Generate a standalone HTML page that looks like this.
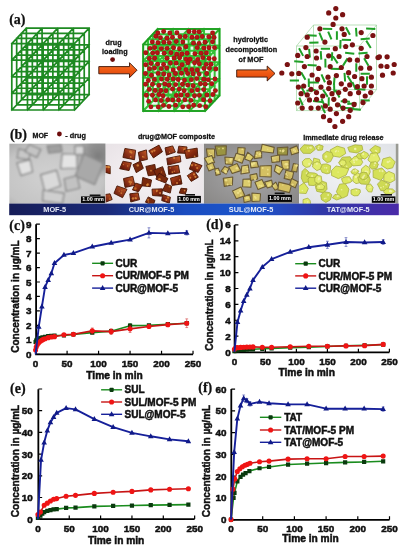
<!DOCTYPE html><html><head><meta charset="utf-8"><title>Drug release from MOF-5</title><style>html,body{margin:0;padding:0;background:#fff;}svg{display:block;filter:blur(0.35px);}</style></head><body><svg width="407" height="550" viewBox="0 0 407 550"><rect width="407" height="550" fill="#fff"/><text x="9.2" y="23.8" font-family="'Liberation Serif', 'Times New Roman', serif" font-weight="bold" font-size="14" stroke="#111" stroke-width="0.25" fill="#111">(a)</text><path d="M11.8 43.6L11.8 110M11.8 43.6L74.5 43.6M27.48 43.6L27.48 110M11.8 60.2L74.5 60.2M43.15 43.6L43.15 110M11.8 76.8L74.5 76.8M58.83 43.6L58.83 110M11.8 93.4L74.5 93.4M74.5 43.6L74.5 110M11.8 110L74.5 110M16.67 38.47L16.67 104.87M16.67 38.47L79.37 38.47M32.34 38.47L32.34 104.87M16.67 55.07L79.37 55.07M48.02 38.47L48.02 104.87M16.67 71.67L79.37 71.67M63.69 38.47L63.69 104.87M16.67 88.27L79.37 88.27M79.37 38.47L79.37 104.87M16.67 104.87L79.37 104.87M21.53 33.33L21.53 99.73M21.53 33.33L84.23 33.33M37.21 33.33L37.21 99.73M21.53 49.93L84.23 49.93M52.88 33.33L52.88 99.73M21.53 66.53L84.23 66.53M68.56 33.33L68.56 99.73M21.53 83.13L84.23 83.13M84.23 33.33L84.23 99.73M21.53 99.73L84.23 99.73M26.4 28.2L26.4 94.6M26.4 28.2L89.1 28.2M42.08 28.2L42.08 94.6M26.4 44.8L89.1 44.8M57.75 28.2L57.75 94.6M26.4 61.4L89.1 61.4M73.42 28.2L73.42 94.6M26.4 78L89.1 78M89.1 28.2L89.1 94.6M26.4 94.6L89.1 94.6M11.8 43.6L26.4 28.2M11.8 60.2L26.4 44.8M11.8 76.8L26.4 61.4M11.8 93.4L26.4 78M11.8 110L26.4 94.6M27.48 43.6L42.08 28.2M27.48 60.2L42.08 44.8M27.48 76.8L42.08 61.4M27.48 93.4L42.08 78M27.48 110L42.08 94.6M43.15 43.6L57.75 28.2M43.15 60.2L57.75 44.8M43.15 76.8L57.75 61.4M43.15 93.4L57.75 78M43.15 110L57.75 94.6M58.83 43.6L73.42 28.2M58.83 60.2L73.42 44.8M58.83 76.8L73.42 61.4M58.83 93.4L73.42 78M58.83 110L73.42 94.6M74.5 43.6L89.1 28.2M74.5 60.2L89.1 44.8M74.5 76.8L89.1 61.4M74.5 93.4L89.1 78M74.5 110L89.1 94.6" stroke="#1e8a22" stroke-width="1.7" fill="none" stroke-linecap="square"/><g font-family="'Liberation Sans', Arial, sans-serif" font-weight="bold" font-size="7.2" fill="#111" stroke="#111" stroke-width="0.28" text-anchor="middle"><text x="113.6" y="44.8">drug</text><text x="114.8" y="54.3">loading</text></g><circle cx="112.6" cy="59.6" r="2.4" fill="#6e0c0c"/><defs><linearGradient id="ag" x1="0" y1="0" x2="0" y2="1"><stop offset="0" stop-color="#f47a30"/><stop offset="0.45" stop-color="#f05a14"/><stop offset="1" stop-color="#d8420a"/></linearGradient><linearGradient id="bar" x1="0" y1="0" x2="1" y2="0"><stop offset="0" stop-color="#161d58"/><stop offset="0.25" stop-color="#1b2a78"/><stop offset="0.45" stop-color="#1a4cc0"/><stop offset="0.62" stop-color="#1c56cc"/><stop offset="0.8" stop-color="#3038a8"/><stop offset="1" stop-color="#4a2aa8"/></linearGradient><radialGradient id="rd" cx="0.45" cy="0.45" r="0.6"><stop offset="0" stop-color="#bc1818"/><stop offset="0.7" stop-color="#a81212"/><stop offset="1" stop-color="#840c0c"/></radialGradient></defs><polygon points="98.8,66.6 129.5,66.6 129.5,62.7 137,70.2 129.5,77.7 129.5,73.8 98.8,73.8" fill="url(#ag)" stroke="#3a1206" stroke-width="0.9"/><polygon points="143.2,44.5 157.7,29 219.5,29 219.5,95.5 205,111 143.2,111" fill="#ecf8ec"/><path d="M143.2 44.5L143.2 111M143.2 44.5L205 44.5M158.65 44.5L158.65 111M143.2 61.12L205 61.12M174.1 44.5L174.1 111M143.2 77.75L205 77.75M189.55 44.5L189.55 111M143.2 94.38L205 94.38M205 44.5L205 111M143.2 111L205 111M148.03 39.33L148.03 105.83M148.03 39.33L209.83 39.33M163.48 39.33L163.48 105.83M148.03 55.96L209.83 55.96M178.93 39.33L178.93 105.83M148.03 72.58L209.83 72.58M194.38 39.33L194.38 105.83M148.03 89.21L209.83 89.21M209.83 39.33L209.83 105.83M148.03 105.83L209.83 105.83M152.87 34.17L152.87 100.67M152.87 34.17L214.67 34.17M168.32 34.17L168.32 100.67M152.87 50.79L214.67 50.79M183.77 34.17L183.77 100.67M152.87 67.42L214.67 67.42M199.22 34.17L199.22 100.67M152.87 84.04L214.67 84.04M214.67 34.17L214.67 100.67M152.87 100.67L214.67 100.67M157.7 29L157.7 95.5M157.7 29L219.5 29M173.15 29L173.15 95.5M157.7 45.62L219.5 45.62M188.6 29L188.6 95.5M157.7 62.25L219.5 62.25M204.05 29L204.05 95.5M157.7 78.88L219.5 78.88M219.5 29L219.5 95.5M157.7 95.5L219.5 95.5M143.2 44.5L157.7 29M143.2 61.12L157.7 45.62M143.2 77.75L157.7 62.25M143.2 94.38L157.7 78.88M143.2 111L157.7 95.5M158.65 44.5L173.15 29M158.65 61.12L173.15 45.62M158.65 77.75L173.15 62.25M158.65 94.38L173.15 78.88M158.65 111L173.15 95.5M174.1 44.5L188.6 29M174.1 61.12L188.6 45.62M174.1 77.75L188.6 62.25M174.1 94.38L188.6 78.88M174.1 111L188.6 95.5M189.55 44.5L204.05 29M189.55 61.12L204.05 45.62M189.55 77.75L204.05 62.25M189.55 94.38L204.05 78.88M189.55 111L204.05 95.5M205 44.5L219.5 29M205 61.12L219.5 45.62M205 77.75L219.5 62.25M205 94.38L219.5 78.88M205 111L219.5 95.5" stroke="#34c236" stroke-width="2.0" fill="none" stroke-linecap="square"/><polygon points="143.2,44.5 157.7,29 219.5,29 219.5,95.5 205,111 143.2,111" fill="none" stroke="#1e9a22" stroke-width="1.6"/><path d="M143.2 44.5L205 44.5L219.5 29M205 44.5L205 111" stroke="#22a022" stroke-width="1" fill="none"/><g fill="url(#rd)"><circle cx="157.77" cy="32.97" r="2.45"/><circle cx="163.64" cy="31.43" r="2.45"/><circle cx="169.86" cy="33.06" r="2.45"/><circle cx="176.91" cy="32.69" r="2.45"/><circle cx="188.96" cy="31.45" r="2.45"/><circle cx="194.29" cy="31.7" r="2.45"/><circle cx="199.05" cy="31.85" r="2.45"/><circle cx="212.61" cy="32.96" r="2.45"/><circle cx="155.85" cy="36.26" r="2.45"/><circle cx="160.48" cy="37.67" r="2.45"/><circle cx="167.09" cy="38.21" r="2.45"/><circle cx="172.45" cy="37.32" r="2.45"/><circle cx="179.99" cy="36.81" r="2.45"/><circle cx="185.32" cy="36.44" r="2.45"/><circle cx="192" cy="37.31" r="2.45"/><circle cx="196.93" cy="37.35" r="2.45"/><circle cx="202.17" cy="36.47" r="2.45"/><circle cx="208.79" cy="36.81" r="2.45"/><circle cx="214.09" cy="37.38" r="2.45"/><circle cx="152.33" cy="41.9" r="2.45"/><circle cx="157.91" cy="42.67" r="2.45"/><circle cx="163.93" cy="42.14" r="2.45"/><circle cx="169.39" cy="42.59" r="2.45"/><circle cx="176.19" cy="41.49" r="2.45"/><circle cx="182.8" cy="41.98" r="2.45"/><circle cx="193.55" cy="43.16" r="2.45"/><circle cx="199.05" cy="43.38" r="2.45"/><circle cx="205.04" cy="42.31" r="2.45"/><circle cx="212.52" cy="41.7" r="2.45"/><circle cx="150.01" cy="48.37" r="2.45"/><circle cx="154.64" cy="47.52" r="2.45"/><circle cx="161.26" cy="48.61" r="2.45"/><circle cx="167.04" cy="48.37" r="2.45"/><circle cx="173.57" cy="47.79" r="2.45"/><circle cx="179.46" cy="48.75" r="2.45"/><circle cx="185.82" cy="46.75" r="2.45"/><circle cx="197.16" cy="47.66" r="2.45"/><circle cx="203.82" cy="48.08" r="2.45"/><circle cx="208.9" cy="47.75" r="2.45"/><circle cx="214.54" cy="47.6" r="2.45"/><circle cx="145.75" cy="52.73" r="2.45"/><circle cx="152.77" cy="53.12" r="2.45"/><circle cx="157.31" cy="52.69" r="2.45"/><circle cx="164.17" cy="53.3" r="2.45"/><circle cx="170.92" cy="52.73" r="2.45"/><circle cx="176.74" cy="54.13" r="2.45"/><circle cx="181.84" cy="54.02" r="2.45"/><circle cx="187" cy="53.26" r="2.45"/><circle cx="194.92" cy="53.72" r="2.45"/><circle cx="201.1" cy="53.16" r="2.45"/><circle cx="206.41" cy="52.88" r="2.45"/><circle cx="149.39" cy="58.46" r="2.45"/><circle cx="154.72" cy="58.18" r="2.45"/><circle cx="166.97" cy="58.27" r="2.45"/><circle cx="174.09" cy="58.06" r="2.45"/><circle cx="179.69" cy="57.68" r="2.45"/><circle cx="186.05" cy="59.12" r="2.45"/><circle cx="190.14" cy="59.27" r="2.45"/><circle cx="197.71" cy="59.48" r="2.45"/><circle cx="202.83" cy="57.64" r="2.45"/><circle cx="209.03" cy="58.41" r="2.45"/><circle cx="214.3" cy="58.69" r="2.45"/><circle cx="145.68" cy="64.77" r="2.45"/><circle cx="150.99" cy="63.49" r="2.45"/><circle cx="157.57" cy="64.1" r="2.45"/><circle cx="163.57" cy="64.43" r="2.45"/><circle cx="170.37" cy="63.01" r="2.45"/><circle cx="176.12" cy="63.17" r="2.45"/><circle cx="182.07" cy="64.77" r="2.45"/><circle cx="187.8" cy="62.85" r="2.45"/><circle cx="194.57" cy="62.81" r="2.45"/><circle cx="199.28" cy="63.73" r="2.45"/><circle cx="206.25" cy="64.35" r="2.45"/><circle cx="210.93" cy="64.28" r="2.45"/><circle cx="149.47" cy="68.64" r="2.45"/><circle cx="154.49" cy="68.08" r="2.45"/><circle cx="161.18" cy="68.63" r="2.45"/><circle cx="166.75" cy="67.98" r="2.45"/><circle cx="173.18" cy="69.97" r="2.45"/><circle cx="179.26" cy="68.41" r="2.45"/><circle cx="185.95" cy="69.74" r="2.45"/><circle cx="191.88" cy="69.65" r="2.45"/><circle cx="197.23" cy="69.97" r="2.45"/><circle cx="203.99" cy="68.39" r="2.45"/><circle cx="209.48" cy="68.35" r="2.45"/><circle cx="215.83" cy="68.93" r="2.45"/><circle cx="145.44" cy="73.52" r="2.45"/><circle cx="151.31" cy="75.28" r="2.45"/><circle cx="158.14" cy="73.39" r="2.45"/><circle cx="163.75" cy="74.03" r="2.45"/><circle cx="169.17" cy="74.96" r="2.45"/><circle cx="175.44" cy="73.56" r="2.45"/><circle cx="181.42" cy="73.22" r="2.45"/><circle cx="187.65" cy="73.48" r="2.45"/><circle cx="193.1" cy="73.73" r="2.45"/><circle cx="199.18" cy="74.12" r="2.45"/><circle cx="206.67" cy="73.49" r="2.45"/><circle cx="148.36" cy="80.51" r="2.45"/><circle cx="154.4" cy="79.42" r="2.45"/><circle cx="161.45" cy="78.99" r="2.45"/><circle cx="167.19" cy="79.23" r="2.45"/><circle cx="173.24" cy="78.89" r="2.45"/><circle cx="178.17" cy="79.55" r="2.45"/><circle cx="184.49" cy="80.12" r="2.45"/><circle cx="191.35" cy="79.67" r="2.45"/><circle cx="196.76" cy="78.61" r="2.45"/><circle cx="203.77" cy="79.13" r="2.45"/><circle cx="208.14" cy="79.66" r="2.45"/><circle cx="215" cy="79.07" r="2.45"/><circle cx="145.58" cy="84.2" r="2.45"/><circle cx="152.48" cy="84.32" r="2.45"/><circle cx="158.9" cy="85.4" r="2.45"/><circle cx="164.79" cy="83.99" r="2.45"/><circle cx="168.97" cy="85.2" r="2.45"/><circle cx="175.67" cy="84.61" r="2.45"/><circle cx="182.44" cy="84.25" r="2.45"/><circle cx="187.67" cy="85.08" r="2.45"/><circle cx="193.15" cy="85.71" r="2.45"/><circle cx="200.47" cy="83.79" r="2.45"/><circle cx="205.26" cy="84.14" r="2.45"/><circle cx="211.74" cy="83.79" r="2.45"/><circle cx="149.3" cy="89.38" r="2.45"/><circle cx="155.15" cy="90.56" r="2.45"/><circle cx="160.86" cy="90.49" r="2.45"/><circle cx="165.9" cy="90.82" r="2.45"/><circle cx="172.53" cy="89.07" r="2.45"/><circle cx="179.24" cy="89.08" r="2.45"/><circle cx="184.14" cy="90.72" r="2.45"/><circle cx="191.91" cy="90.63" r="2.45"/><circle cx="197.43" cy="89.85" r="2.45"/><circle cx="203.72" cy="89.6" r="2.45"/><circle cx="215.42" cy="90.6" r="2.45"/><circle cx="146.28" cy="95.26" r="2.45"/><circle cx="152.44" cy="95.2" r="2.45"/><circle cx="158.94" cy="94.54" r="2.45"/><circle cx="163" cy="95.81" r="2.45"/><circle cx="176.3" cy="95.46" r="2.45"/><circle cx="181.03" cy="95.05" r="2.45"/><circle cx="187.34" cy="94.94" r="2.45"/><circle cx="194.46" cy="95.73" r="2.45"/><circle cx="199.43" cy="95.39" r="2.45"/><circle cx="206.96" cy="95.03" r="2.45"/><circle cx="212.85" cy="94.57" r="2.45"/><circle cx="148.63" cy="101.33" r="2.45"/><circle cx="155.57" cy="99.91" r="2.45"/><circle cx="161.22" cy="100.55" r="2.45"/><circle cx="167.73" cy="99.79" r="2.45"/><circle cx="172.69" cy="99.99" r="2.45"/><circle cx="178.52" cy="99.97" r="2.45"/><circle cx="184.89" cy="99.79" r="2.45"/><circle cx="190.93" cy="100.34" r="2.45"/><circle cx="203.55" cy="99.72" r="2.45"/><circle cx="210.06" cy="100.78" r="2.45"/><circle cx="150.92" cy="106.84" r="2.45"/><circle cx="158.28" cy="106.88" r="2.45"/><circle cx="163.45" cy="105.36" r="2.45"/><circle cx="168.96" cy="106.52" r="2.45"/><circle cx="175.55" cy="105.23" r="2.45"/><circle cx="182.76" cy="106.86" r="2.45"/><circle cx="188.63" cy="106.65" r="2.45"/><circle cx="193.62" cy="105.23" r="2.45"/><circle cx="199.6" cy="105.63" r="2.45"/><circle cx="205.71" cy="106.65" r="2.45"/></g><g font-family="'Liberation Sans', Arial, sans-serif" font-weight="bold" font-size="7.25" fill="#111" stroke="#111" stroke-width="0.28" text-anchor="middle"><text x="250.6" y="42">hydrolytic</text><text x="251.3" y="51.8">decomposition</text><text x="251" y="61.6">of MOF</text></g><polygon points="236.7,69.9 267.2,69.9 267.2,66 275,73.5 267.2,81 267.2,77.1 236.7,77.1" fill="url(#ag)" stroke="#3a1206" stroke-width="0.9"/><path d="M296.5 46L359.5 46M359.5 46L359.5 110.6M359.5 110.6L296.5 110.6M296.5 110.6L296.5 46M313.5 25L376.5 25M376.5 25L376.5 89.6M376.5 89.6L313.5 89.6M313.5 89.6L313.5 25M296.5 46L313.5 25M359.5 46L376.5 25M359.5 110.6L376.5 89.6M296.5 110.6L313.5 89.6" stroke="#8fcf8f" stroke-width="0.6" fill="none"/><path d="M323 28.68L332.2 28.92M366.11 28.49L375.29 29.11M307.5 35.3L316.7 35.7M319.31 32.65L322.69 40.55M328.14 31.53L331.46 39.47M336.89 31.2L336.91 39.8M345.88 27.2L349.92 34.8M355.99 27.91L356.61 36.49M309.3 42.79L318.5 42.41M341.8 39.82L351 39.98M360.62 39.2L369.78 38.4M340.57 40L340.23 48.6M366.22 40.65L370.78 47.95M320.8 48.75L330 48.65M345.12 52.75L354.28 53.65M358.42 53.59L367.58 52.81M309.09 48.92L309.91 57.48M299.03 48.33L303.17 55.87M320.72 51.11L321.28 59.69M332.2 52.2L331.8 60.8M332.9 56.23L337.7 63.37M343.02 65.64L347.58 58.36M294.21 61.26L303.39 61.94M307.51 65.02L316.69 65.58M325.33 58.8L325.47 67.4M364.11 58.3L368.49 65.7M330.7 68.64L339.9 68.96M356.31 63.2L356.29 71.8M289.8 80.58L299 80.42M301.15 72.37L305.45 79.83M308.74 78.4L308.86 87M309.7 82.14L318.9 82.46M321.45 74.37L324.95 82.23M334.56 77.32L333.84 85.88M344.5 72.91L345.1 81.49M347.52 75.69L351.88 83.11M360.6 73.85L369.8 73.75M367.06 76.2L366.94 84.8M301.16 86.67L305.44 94.13M306.41 90.69L315.59 90.11M323.06 89.69L327.74 96.91M334.04 83.9L334.36 92.5M335.45 89.92L339.55 97.48M352.47 82.02L355.73 89.98M356.22 88.91L365.38 89.69M299.38 97.56L302.82 105.44M313.02 101.04L322.18 101.96M321.56 98.63L324.84 106.57M328.81 97.2L328.59 105.8M340.71 101.2L349.89 101.8M347.32 104.12L356.48 103.28M360.6 100.23L369.8 100.57M321.27 105.36L325.13 113.04M338.72 103.29L343.08 110.71M345.1 108.03L354.3 108.17M351.72 108.76L360.88 109.64" stroke="#20a028" stroke-width="2.0" fill="none"/><g fill="#7a1212"><circle cx="333.1" cy="24.4" r="2.6"/><circle cx="319.9" cy="28.8" r="2.6"/><circle cx="342" cy="28.8" r="2.6"/><circle cx="344.2" cy="34.4" r="2.6"/><circle cx="307.2" cy="37.2" r="2.6"/><circle cx="324.9" cy="42.1" r="2.6"/><circle cx="361.2" cy="32.6" r="2.6"/><circle cx="372.9" cy="35.5" r="2.6"/><circle cx="305.9" cy="47.6" r="2.6"/><circle cx="316.1" cy="51" r="2.6"/><circle cx="335.3" cy="48.7" r="2.6"/><circle cx="345.7" cy="46.5" r="2.6"/><circle cx="352.4" cy="44.8" r="2.6"/><circle cx="361.2" cy="48.3" r="2.6"/><circle cx="297.7" cy="55.4" r="2.6"/><circle cx="307.2" cy="56.5" r="2.6"/><circle cx="316.5" cy="58" r="2.6"/><circle cx="328.7" cy="55.8" r="2.6"/><circle cx="339.1" cy="56.5" r="2.6"/><circle cx="349.7" cy="59.8" r="2.6"/><circle cx="357.4" cy="60.2" r="2.6"/><circle cx="367" cy="56.5" r="2.6"/><circle cx="378" cy="57.6" r="2.6"/><circle cx="304.4" cy="66.6" r="2.6"/><circle cx="318.7" cy="68.4" r="2.6"/><circle cx="330.2" cy="66.6" r="2.6"/><circle cx="341.3" cy="67.5" r="2.6"/><circle cx="360.8" cy="68.2" r="2.6"/><circle cx="369.6" cy="68.2" r="2.6"/><circle cx="291.8" cy="73.8" r="2.6"/><circle cx="298.8" cy="73.4" r="2.6"/><circle cx="312.1" cy="75" r="2.6"/><circle cx="317.6" cy="79.4" r="2.6"/><circle cx="328" cy="77.2" r="2.6"/><circle cx="336.4" cy="75.6" r="2.6"/><circle cx="348.6" cy="72.7" r="2.6"/><circle cx="354.6" cy="76.5" r="2.6"/><circle cx="361.9" cy="78.7" r="2.6"/><circle cx="371.4" cy="77.2" r="2.6"/><circle cx="298.4" cy="87.1" r="2.6"/><circle cx="303.7" cy="86" r="2.6"/><circle cx="321" cy="87.1" r="2.6"/><circle cx="329.4" cy="82.7" r="2.6"/><circle cx="328.7" cy="88.6" r="2.6"/><circle cx="341.3" cy="83.8" r="2.6"/><circle cx="349.7" cy="84.9" r="2.6"/><circle cx="357.4" cy="86.7" r="2.6"/><circle cx="364.1" cy="86" r="2.6"/><circle cx="371.4" cy="86" r="2.6"/><circle cx="301.1" cy="93.7" r="2.6"/><circle cx="307.2" cy="94.9" r="2.6"/><circle cx="311" cy="89.3" r="2.6"/><circle cx="316.5" cy="92.6" r="2.6"/><circle cx="322.7" cy="96" r="2.6"/><circle cx="332" cy="93.7" r="2.6"/><circle cx="338.7" cy="92.6" r="2.6"/><circle cx="345.3" cy="89.3" r="2.6"/><circle cx="350.2" cy="93.7" r="2.6"/><circle cx="358.6" cy="92.6" r="2.6"/><circle cx="365.2" cy="96" r="2.6"/><circle cx="370.7" cy="92.6" r="2.6"/><circle cx="297.7" cy="103" r="2.6"/><circle cx="309.5" cy="99.9" r="2.6"/><circle cx="316.5" cy="99.3" r="2.6"/><circle cx="325.4" cy="105.9" r="2.6"/><circle cx="333.8" cy="99.3" r="2.6"/><circle cx="337.5" cy="104.8" r="2.6"/><circle cx="344.8" cy="100.8" r="2.6"/><circle cx="354.1" cy="104.4" r="2.6"/><circle cx="363" cy="102.6" r="2.6"/><circle cx="302.2" cy="108.1" r="2.6"/><circle cx="311" cy="108.1" r="2.6"/><circle cx="318.3" cy="108.1" r="2.6"/><circle cx="330.2" cy="109.2" r="2.6"/><circle cx="343.1" cy="108.1" r="2.6"/><circle cx="350.2" cy="110.3" r="2.6"/><circle cx="336.4" cy="113.6" r="2.6"/><circle cx="335.8" cy="8.6" r="2.6"/><circle cx="328.7" cy="12.9" r="2.6"/><circle cx="342.6" cy="14.7" r="2.6"/><circle cx="335.8" cy="18" r="2.6"/><circle cx="287.3" cy="64.5" r="2.6"/><circle cx="281.8" cy="73" r="2.6"/><circle cx="379.4" cy="56.8" r="2.6"/><circle cx="387.1" cy="56.8" r="2.6"/><circle cx="394.2" cy="64.5" r="2.6"/><circle cx="381" cy="66" r="2.6"/><circle cx="387" cy="66.5" r="2.6"/><circle cx="382.5" cy="75.2" r="2.6"/><circle cx="393.2" cy="73" r="2.6"/><circle cx="323.5" cy="116.7" r="2.6"/><circle cx="329.7" cy="120.4" r="2.6"/><circle cx="342.6" cy="121.3" r="2.6"/><circle cx="348.7" cy="116.7" r="2.6"/><circle cx="334.9" cy="126.5" r="2.6"/></g><text x="9.9" y="139.1" font-family="'Liberation Serif', 'Times New Roman', serif" font-weight="bold" font-size="14" stroke="#111" stroke-width="0.25" fill="#111">(b)</text><g font-family="'Liberation Sans', Arial, sans-serif" font-weight="bold" font-size="7" fill="#111" stroke="#111" stroke-width="0.28"><text x="32.6" y="138.3">MOF</text><text x="65.3" y="138.3" textLength="20.6" lengthAdjust="spacingAndGlyphs">- drug</text><text x="176.4" y="139" text-anchor="middle" font-size="7.4" textLength="77" lengthAdjust="spacingAndGlyphs">drug@MOF composite</text><text x="343.4" y="139.6" text-anchor="middle" font-size="7.5" textLength="80.5" lengthAdjust="spacingAndGlyphs">Immediate drug release</text></g><circle cx="59.4" cy="134" r="2.4" fill="#6e0c0c"/><defs><clipPath id="pc0"><rect x="9.2" y="143.4" width="96.4" height="60.4"/></clipPath><clipPath id="pc1"><rect x="105.6" y="143.4" width="98" height="60.4"/></clipPath><clipPath id="pc2"><rect x="203.6" y="143.4" width="95.6" height="60.4"/></clipPath><clipPath id="pc3"><rect x="299.2" y="143.4" width="99.4" height="60.4"/></clipPath><radialGradient id="p1bg" cx="0.45" cy="0.55" r="0.75"><stop offset="0" stop-color="#d2d2d2"/><stop offset="0.7" stop-color="#c4c4c4"/><stop offset="1" stop-color="#a4a4a4"/></radialGradient><radialGradient id="p2bg" cx="0.5" cy="0.5" r="0.8"><stop offset="0" stop-color="#f8f4f6"/><stop offset="1" stop-color="#e6e0e4"/></radialGradient><radialGradient id="p3bg" cx="0.5" cy="0.5" r="0.8"><stop offset="0" stop-color="#a8a8aa"/><stop offset="1" stop-color="#848280"/></radialGradient><radialGradient id="p4bg" cx="0.5" cy="0.5" r="0.8"><stop offset="0" stop-color="#f2f3f6"/><stop offset="1" stop-color="#dcdfe4"/></radialGradient><filter id="pb" x="-5%" y="-5%" width="110%" height="110%"><feGaussianBlur stdDeviation="0.45"/></filter><radialGradient id="p1dk"><stop offset="0" stop-color="#707070" stop-opacity="0.85"/><stop offset="0.6" stop-color="#808080" stop-opacity="0.6"/><stop offset="1" stop-color="#909090" stop-opacity="0"/></radialGradient><linearGradient id="c2a" x1="0" y1="0" x2="1" y2="1"><stop offset="0" stop-color="#b84c1c"/><stop offset="0.5" stop-color="#8a2c10"/><stop offset="1" stop-color="#561406"/></linearGradient><linearGradient id="c2b" x1="1" y1="0" x2="0" y2="1"><stop offset="0" stop-color="#c45a22"/><stop offset="0.6" stop-color="#7e2410"/><stop offset="1" stop-color="#4a1006"/></linearGradient><linearGradient id="c2c" x1="0" y1="1" x2="1" y2="0"><stop offset="0" stop-color="#5e180a"/><stop offset="0.5" stop-color="#94361a"/><stop offset="1" stop-color="#cc6428"/></linearGradient><linearGradient id="c3a" x1="0" y1="0" x2="1" y2="1"><stop offset="0" stop-color="#ece08a"/><stop offset="1" stop-color="#c0a84c"/></linearGradient><linearGradient id="c3b" x1="1" y1="0" x2="0" y2="1"><stop offset="0" stop-color="#e4d47a"/><stop offset="1" stop-color="#b49c44"/></linearGradient><filter id="pb1" x="-5%" y="-5%" width="110%" height="110%"><feGaussianBlur stdDeviation="0.8"/></filter></defs><g clip-path="url(#pc0)"><rect x="9.2" y="143.4" width="96.4" height="61" fill="url(#p1bg)"/><g filter="url(#pb1)"><ellipse cx="98" cy="156" rx="24" ry="22" fill="url(#p1dk)"/><polygon points="16.98,162.96 30.03,159.71 32.55,171.85 21,175.52" fill="#e2e2e2" stroke="#8a8a8a" stroke-width="1.4" stroke-linejoin="round"/><polygon points="40.69,174.77 56.58,170.24 60.72,185.87 44.89,191.58" fill="#dadada" stroke="#8a8a8a" stroke-width="1.4" stroke-linejoin="round"/><polygon points="62.2,153.88 76.62,154.37 77.13,168.09 60.71,168.59" fill="#e4e4e4" stroke="#8a8a8a" stroke-width="1.4" stroke-linejoin="round"/><polygon points="75.03,145.71 83.95,145.52 83.68,154.18 74.84,154.64" fill="#d6d6d6" stroke="#8a8a8a" stroke-width="1.4" stroke-linejoin="round"/><polygon points="84.09,154 103.22,163.46 94.76,184.56 75.17,176.14" fill="#a9a9a9" stroke="#8a8a8a" stroke-width="1.4" stroke-linejoin="round"/><polygon points="47.16,145.86 61.02,144.71 61.99,151.45 48.85,153.13" fill="#a0a0a0" stroke="#8a8a8a" stroke-width="1.4" stroke-linejoin="round"/><polygon points="18.66,149.05 30.73,151.31 28.56,159.78 17.13,157.9" fill="#c8c8c8" stroke="#8a8a8a" stroke-width="1.4" stroke-linejoin="round"/><polygon points="43.26,190.1 64.29,193.21 62.26,203.61 42.62,201.05" fill="#cfcfcf" stroke="#8a8a8a" stroke-width="1.4" stroke-linejoin="round"/><polygon points="64.15,178.87 77.02,175.62 79.76,188.12 66.17,191.37" fill="#c2c2c2" stroke="#8a8a8a" stroke-width="1.4" stroke-linejoin="round"/><polygon points="29.27,144.71 40.77,149.35 36.86,157.42 24.94,151.54" fill="#c4c4c4" stroke="#8a8a8a" stroke-width="1.4" stroke-linejoin="round"/></g></g><g clip-path="url(#pc1)"><rect x="105.6" y="143.4" width="98" height="61" fill="url(#p2bg)"/><g filter="url(#pb)"><polygon points="124.92,148.45 135.59,150.27 134.49,159.77 122.93,157.46" fill="url(#c2c)" stroke="#4a1606" stroke-width="0.9" stroke-linejoin="round"/><circle cx="130.45" cy="151.74" r="1.28" fill="#d8883a" opacity="0.8"/><circle cx="131.49" cy="152.78" r="1.04" fill="#d8883a" opacity="0.8"/><circle cx="130.72" cy="156.91" r="0.91" fill="#d8883a" opacity="0.8"/><polygon points="138.3,152.37 146.38,149.9 147.38,159.42 139.79,161.08" fill="url(#c2c)" stroke="#4a1606" stroke-width="0.9" stroke-linejoin="round"/><circle cx="142.83" cy="156.65" r="0.85" fill="#e09040" opacity="0.8"/><circle cx="144.03" cy="157.01" r="0.62" fill="#e09040" opacity="0.8"/><polygon points="148.79,150.76 159.02,145.1 162.43,151.73 153.4,157.88" fill="url(#c2a)" stroke="#4a1606" stroke-width="0.9" stroke-linejoin="round"/><circle cx="154.4" cy="150.52" r="1.14" fill="#e09040" opacity="0.8"/><circle cx="152.22" cy="151.58" r="1.11" fill="#e09040" opacity="0.8"/><polygon points="165.07,147.86 172.7,145.91 175.4,152.09 166.44,155.16" fill="url(#c2c)" stroke="#4a1606" stroke-width="0.9" stroke-linejoin="round"/><circle cx="169.63" cy="152.34" r="0.72" fill="#e09040" opacity="0.8"/><polygon points="178.81,146.16 186.96,146.92 186.43,153.38 177.6,153.02" fill="url(#c2c)" stroke="#4a1606" stroke-width="0.9" stroke-linejoin="round"/><circle cx="184.52" cy="149.31" r="1.18" fill="#e09040" opacity="0.8"/><polygon points="184.47,150.24 197.16,148.13 197.83,156.63 186.29,158.51" fill="url(#c2a)" stroke="#4a1606" stroke-width="0.9" stroke-linejoin="round"/><circle cx="188.85" cy="150.83" r="1.26" fill="#e09040" opacity="0.8"/><circle cx="194.64" cy="156.33" r="0.9" fill="#e09040" opacity="0.8"/><polygon points="122.96,161.22 131.4,162.82 129.06,170.58 119.71,168.72" fill="url(#c2b)" stroke="#4a1606" stroke-width="0.9" stroke-linejoin="round"/><circle cx="123.51" cy="164.53" r="0.62" fill="#d8883a" opacity="0.8"/><circle cx="127.71" cy="166.02" r="0.74" fill="#d8883a" opacity="0.8"/><polygon points="132.99,164.75 140.53,161.11 143.35,168.33 136.24,172.63" fill="#7a2a10" stroke="#4a1606" stroke-width="0.9" stroke-linejoin="round"/><circle cx="137.75" cy="165.39" r="1.2" fill="#e09040" opacity="0.8"/><polygon points="145.83,166.44 154.81,164.45 156.37,174.68 148.27,175.79" fill="#7a2a10" stroke="#4a1606" stroke-width="0.9" stroke-linejoin="round"/><circle cx="150.98" cy="170.64" r="0.88" fill="#d8883a" opacity="0.8"/><polygon points="166.78,158.41 180.16,155.68 180.89,161.76 167.78,165.12" fill="url(#c2c)" stroke="#4a1606" stroke-width="0.9" stroke-linejoin="round"/><circle cx="174.14" cy="158.11" r="1.1" fill="#d8883a" opacity="0.8"/><polygon points="153.62,170.18 162.61,166.66 166,176.25 157.2,178.09" fill="#7a2a10" stroke="#4a1606" stroke-width="0.9" stroke-linejoin="round"/><circle cx="161.54" cy="172.01" r="0.66" fill="#c8782a" opacity="0.8"/><polygon points="168.04,166.64 178.37,165.29 179.77,172.85 168.7,174.43" fill="url(#c2b)" stroke="#4a1606" stroke-width="0.9" stroke-linejoin="round"/><circle cx="172.35" cy="172.12" r="0.89" fill="#d8883a" opacity="0.8"/><circle cx="170.18" cy="168.02" r="0.79" fill="#d8883a" opacity="0.8"/><circle cx="174.36" cy="171.3" r="0.76" fill="#d8883a" opacity="0.8"/><polygon points="192.11,161.84 202.1,165.62 198.14,172.47 189.32,169.1" fill="url(#c2b)" stroke="#4a1606" stroke-width="0.9" stroke-linejoin="round"/><circle cx="197.22" cy="168.12" r="1.11" fill="#d8883a" opacity="0.8"/><circle cx="195.68" cy="165.02" r="1.01" fill="#d8883a" opacity="0.8"/><circle cx="191.91" cy="165.24" r="1.14" fill="#d8883a" opacity="0.8"/><polygon points="187.29,175.63 194.29,170.93 198.32,177.21 191.24,181.41" fill="url(#c2a)" stroke="#4a1606" stroke-width="0.9" stroke-linejoin="round"/><circle cx="195.36" cy="176.79" r="1.16" fill="#e09040" opacity="0.8"/><circle cx="190.28" cy="177.71" r="0.96" fill="#e09040" opacity="0.8"/><circle cx="194.04" cy="174.47" r="1.12" fill="#e09040" opacity="0.8"/><polygon points="170.46,178.19 180.35,175.3 181.98,183.96 172.11,185.43" fill="url(#c2a)" stroke="#4a1606" stroke-width="0.9" stroke-linejoin="round"/><circle cx="177.03" cy="183.11" r="0.99" fill="#e09040" opacity="0.8"/><circle cx="179.7" cy="180.01" r="0.76" fill="#e09040" opacity="0.8"/><polygon points="159.07,173.16 167.9,178.5 165.68,183.03 155.87,179.13" fill="#7a2a10" stroke="#4a1606" stroke-width="0.9" stroke-linejoin="round"/><circle cx="159.45" cy="179.3" r="1.24" fill="#e09040" opacity="0.8"/><polygon points="142.77,177.48 151.59,180.06 150.23,186.66 141.65,185.84" fill="#7a2a10" stroke="#4a1606" stroke-width="0.9" stroke-linejoin="round"/><circle cx="147.86" cy="184.31" r="1.02" fill="#e09040" opacity="0.8"/><circle cx="147.32" cy="184.94" r="1.22" fill="#e09040" opacity="0.8"/><polygon points="123.49,178.59 132.81,176.34 134.88,185.3 125.05,187.46" fill="url(#c2c)" stroke="#4a1606" stroke-width="0.9" stroke-linejoin="round"/><circle cx="129.62" cy="181.77" r="1.18" fill="#d8883a" opacity="0.8"/><circle cx="131.12" cy="182.27" r="0.94" fill="#d8883a" opacity="0.8"/><circle cx="130.44" cy="183.93" r="0.88" fill="#d8883a" opacity="0.8"/><polygon points="135.62,183.08 142.48,185.21 138.5,191.75 132.49,189.91" fill="url(#c2a)" stroke="#4a1606" stroke-width="0.9" stroke-linejoin="round"/><circle cx="135.4" cy="188.46" r="1.2" fill="#c8782a" opacity="0.8"/><polygon points="117.01,185.88 127,189.32 122.56,197.65 113.96,193.37" fill="url(#c2c)" stroke="#4a1606" stroke-width="0.9" stroke-linejoin="round"/><circle cx="121.87" cy="190.84" r="0.62" fill="#d8883a" opacity="0.8"/><circle cx="119.17" cy="191.08" r="0.65" fill="#d8883a" opacity="0.8"/><circle cx="121.27" cy="193.1" r="0.94" fill="#d8883a" opacity="0.8"/><polygon points="129.79,193.82 138.1,192.82 139.56,199.6 130.78,202.01" fill="url(#c2b)" stroke="#4a1606" stroke-width="0.9" stroke-linejoin="round"/><circle cx="136.13" cy="198.56" r="0.81" fill="#e09040" opacity="0.8"/><circle cx="135.53" cy="198.05" r="1.16" fill="#e09040" opacity="0.8"/><circle cx="133.01" cy="198.55" r="1.27" fill="#e09040" opacity="0.8"/><polygon points="152.01,189.17 162.49,188.86 161.75,196.22 152.5,195.53" fill="url(#c2a)" stroke="#4a1606" stroke-width="0.9" stroke-linejoin="round"/><circle cx="156.94" cy="190.48" r="0.99" fill="#e09040" opacity="0.8"/><circle cx="160.09" cy="193.11" r="1.05" fill="#e09040" opacity="0.8"/><circle cx="156.71" cy="191.42" r="0.73" fill="#e09040" opacity="0.8"/><polygon points="165.71,183.67 171.68,186.24 170.26,193.09 162.6,190.56" fill="#7a2a10" stroke="#4a1606" stroke-width="0.9" stroke-linejoin="round"/><circle cx="169.49" cy="186.46" r="0.95" fill="#c8782a" opacity="0.8"/><polygon points="162.63,194.6 170.41,197.2 169.3,203.17 161.72,200.58" fill="url(#c2b)" stroke="#4a1606" stroke-width="0.9" stroke-linejoin="round"/><circle cx="166.3" cy="199.88" r="1" fill="#e09040" opacity="0.8"/><circle cx="168.05" cy="197.43" r="1.09" fill="#e09040" opacity="0.8"/><polygon points="181,188.26 187.03,188.83 185.36,194.04 179.27,193.07" fill="#7a2a10" stroke="#4a1606" stroke-width="0.9" stroke-linejoin="round"/><circle cx="184.58" cy="190.67" r="0.81" fill="#e09040" opacity="0.8"/><polygon points="148.23,196.9 154.97,200.47 153.01,205.7 145.41,202.15" fill="#7a2a10" stroke="#4a1606" stroke-width="0.9" stroke-linejoin="round"/><circle cx="148.12" cy="199.85" r="1.04" fill="#c8782a" opacity="0.8"/><circle cx="148.51" cy="201.95" r="0.76" fill="#c8782a" opacity="0.8"/><polygon points="104.9,165.38 110.11,166.12 110.25,173.8 103.9,171.89" fill="url(#c2b)" stroke="#4a1606" stroke-width="0.9" stroke-linejoin="round"/><circle cx="108.94" cy="167.18" r="1.15" fill="#e09040" opacity="0.8"/><circle cx="107.99" cy="166.75" r="0.85" fill="#e09040" opacity="0.8"/><circle cx="106.6" cy="166.89" r="0.98" fill="#e09040" opacity="0.8"/><polygon points="104.31,194.65 110.04,193.84 112.2,199.49 105.28,202.31" fill="url(#c2c)" stroke="#4a1606" stroke-width="0.9" stroke-linejoin="round"/><circle cx="110.01" cy="199.07" r="0.91" fill="#c8782a" opacity="0.8"/></g></g><g clip-path="url(#pc2)"><rect x="203.6" y="143.4" width="95.6" height="61" fill="url(#p3bg)"/><g filter="url(#pb)"><polygon points="206.44,148.81 214.51,148.94 214.78,157.67 207.53,157.85" fill="url(#c3b)" stroke="#6a5a34" stroke-width="1.1" stroke-linejoin="round"/><circle cx="209.6" cy="153.54" r="0.62" fill="#f0e490" opacity="0.8"/><circle cx="210.97" cy="154.67" r="0.91" fill="#f0e490" opacity="0.8"/><polygon points="215.11,145.98 226.37,145.76 226.01,154.72 217.06,155.78" fill="#9a9440" stroke="#6a5a34" stroke-width="1.1" stroke-linejoin="round"/><circle cx="222.96" cy="148.43" r="0.92" fill="#f0e490" opacity="0.8"/><circle cx="218.99" cy="148.83" r="0.72" fill="#f0e490" opacity="0.8"/><polygon points="237.92,147.52 245.1,148.04 244.4,154.94 237.52,154.08" fill="#d4c062" stroke="#6a5a34" stroke-width="1.1" stroke-linejoin="round"/><circle cx="242.3" cy="149.34" r="0.88" fill="#f0e490" opacity="0.8"/><polygon points="255.52,151.32 261.68,150.48 261.64,157.63 254.3,158.61" fill="#d4c062" stroke="#6a5a34" stroke-width="1.1" stroke-linejoin="round"/><circle cx="256.3" cy="155.42" r="0.79" fill="#f0e490" opacity="0.8"/><circle cx="259.91" cy="154.13" r="1.25" fill="#f0e490" opacity="0.8"/><circle cx="257.52" cy="153.07" r="0.79" fill="#f0e490" opacity="0.8"/><polygon points="262.18,144.34 274.23,147.4 273.32,153.01 260.71,151.44" fill="#dccc6c" stroke="#6a5a34" stroke-width="1.1" stroke-linejoin="round"/><circle cx="267.72" cy="149.31" r="0.73" fill="#f0e490" opacity="0.8"/><polygon points="277.23,147.73 287.89,146.94 287.36,155.07 277.68,155.02" fill="#9a9440" stroke="#6a5a34" stroke-width="1.1" stroke-linejoin="round"/><circle cx="283.34" cy="150.62" r="1.26" fill="#f0e490" opacity="0.8"/><circle cx="280.32" cy="150.72" r="0.96" fill="#f0e490" opacity="0.8"/><circle cx="282.77" cy="151.4" r="1.14" fill="#f0e490" opacity="0.8"/><polygon points="289.97,148.62 296.83,145.88 299.28,152.37 291.63,154.85" fill="#d4c062" stroke="#6a5a34" stroke-width="1.1" stroke-linejoin="round"/><circle cx="294.01" cy="149.47" r="0.72" fill="#f0e490" opacity="0.8"/><circle cx="295.18" cy="151.12" r="1.1" fill="#f0e490" opacity="0.8"/><circle cx="293.55" cy="150.54" r="0.71" fill="#f0e490" opacity="0.8"/><polygon points="236.18,153.25 244.89,155.68 242.1,163.34 233.72,160.07" fill="url(#c3a)" stroke="#6a5a34" stroke-width="1.1" stroke-linejoin="round"/><circle cx="239.22" cy="159.98" r="1.11" fill="#f0e490" opacity="0.8"/><polygon points="247.69,152.17 253.72,156.95 250.38,161.32 244.63,158.96" fill="#dccc6c" stroke="#6a5a34" stroke-width="1.1" stroke-linejoin="round"/><circle cx="248.18" cy="155.39" r="0.71" fill="#f0e490" opacity="0.8"/><polygon points="224.87,157.01 233.74,157.79 232.5,164.37 225.47,164.04" fill="url(#c3b)" stroke="#6a5a34" stroke-width="1.1" stroke-linejoin="round"/><circle cx="230.41" cy="160.86" r="1.04" fill="#f0e490" opacity="0.8"/><circle cx="226.71" cy="162.32" r="1.02" fill="#f0e490" opacity="0.8"/><circle cx="230.79" cy="159.29" r="1.26" fill="#f0e490" opacity="0.8"/><polygon points="204.36,158.26 211.72,155.54 214.58,162.45 208.07,164.73" fill="#dccc6c" stroke="#6a5a34" stroke-width="1.1" stroke-linejoin="round"/><circle cx="210.19" cy="161.76" r="0.8" fill="#f0e490" opacity="0.8"/><circle cx="211.58" cy="160.12" r="0.87" fill="#f0e490" opacity="0.8"/><circle cx="207.52" cy="157.99" r="0.81" fill="#f0e490" opacity="0.8"/><polygon points="271.19,156.55 279.46,155.05 279.65,161.62 271.98,162.47" fill="url(#c3a)" stroke="#6a5a34" stroke-width="1.1" stroke-linejoin="round"/><circle cx="274.97" cy="160.73" r="0.83" fill="#f0e490" opacity="0.8"/><polygon points="281.23,160.64 289.3,159.94 289.05,169.23 282.54,168.99" fill="#d4c062" stroke="#6a5a34" stroke-width="1.1" stroke-linejoin="round"/><circle cx="285.73" cy="164.3" r="1.26" fill="#f0e490" opacity="0.8"/><circle cx="287.55" cy="167.25" r="0.94" fill="#f0e490" opacity="0.8"/><circle cx="286.9" cy="164.23" r="1.3" fill="#f0e490" opacity="0.8"/><polygon points="250.12,161.84 256.92,161.21 258.53,167.02 250.98,167.91" fill="url(#c3a)" stroke="#6a5a34" stroke-width="1.1" stroke-linejoin="round"/><circle cx="252.59" cy="164.66" r="0.63" fill="#f0e490" opacity="0.8"/><circle cx="254.03" cy="163.4" r="1.15" fill="#f0e490" opacity="0.8"/><circle cx="252.24" cy="164.46" r="1.24" fill="#f0e490" opacity="0.8"/><polygon points="228.76,167.1 237.03,163.56 240.87,170.63 232.17,173.49" fill="#d4c062" stroke="#6a5a34" stroke-width="1.1" stroke-linejoin="round"/><circle cx="236.92" cy="168.31" r="1.3" fill="#f0e490" opacity="0.8"/><circle cx="232.97" cy="170.98" r="0.8" fill="#f0e490" opacity="0.8"/><polygon points="241.79,166.08 248.19,164.93 249.31,172.79 240.88,173.94" fill="url(#c3a)" stroke="#6a5a34" stroke-width="1.1" stroke-linejoin="round"/><circle cx="242.6" cy="172.12" r="0.6" fill="#f0e490" opacity="0.8"/><circle cx="247.42" cy="171.24" r="0.85" fill="#f0e490" opacity="0.8"/><circle cx="247.33" cy="168.83" r="0.99" fill="#f0e490" opacity="0.8"/><polygon points="206.48,165.36 212.71,162.59 215.1,168.55 208.89,170.93" fill="#d4c062" stroke="#6a5a34" stroke-width="1.1" stroke-linejoin="round"/><circle cx="210.9" cy="166.17" r="0.63" fill="#f0e490" opacity="0.8"/><circle cx="210.95" cy="167.75" r="1.07" fill="#f0e490" opacity="0.8"/><polygon points="224.72,166.43 229.11,168.53 226.11,174.09 220.93,171.27" fill="url(#c3b)" stroke="#6a5a34" stroke-width="1.1" stroke-linejoin="round"/><circle cx="225.87" cy="172.22" r="1.23" fill="#f0e490" opacity="0.8"/><circle cx="225.23" cy="171.07" r="1.25" fill="#f0e490" opacity="0.8"/><polygon points="214.86,168.9 218.4,168.17 220.45,174.24 215.97,175.4" fill="#d4c062" stroke="#6a5a34" stroke-width="1.1" stroke-linejoin="round"/><circle cx="218.27" cy="171.9" r="1.27" fill="#f0e490" opacity="0.8"/><circle cx="216.3" cy="171.3" r="0.97" fill="#f0e490" opacity="0.8"/><polygon points="259.92,165.98 271.41,165.51 271.15,177.03 259.9,176.44" fill="#d4c062" stroke="#6a5a34" stroke-width="1.1" stroke-linejoin="round"/><circle cx="267.78" cy="169.72" r="0.9" fill="#f0e490" opacity="0.8"/><circle cx="262.76" cy="167.98" r="0.94" fill="#f0e490" opacity="0.8"/><circle cx="267.77" cy="173.88" r="0.91" fill="#f0e490" opacity="0.8"/><polygon points="275.9,164.83 283.36,168.23 279.38,174.57 274.31,171.07" fill="#dccc6c" stroke="#6a5a34" stroke-width="1.1" stroke-linejoin="round"/><circle cx="278.42" cy="167.63" r="0.89" fill="#f0e490" opacity="0.8"/><circle cx="277.73" cy="171.39" r="0.95" fill="#f0e490" opacity="0.8"/><polygon points="285.91,170.16 293.67,172.15 291.93,180.34 284.18,178.53" fill="url(#c3b)" stroke="#6a5a34" stroke-width="1.1" stroke-linejoin="round"/><circle cx="286.13" cy="174.02" r="0.94" fill="#f0e490" opacity="0.8"/><circle cx="287.22" cy="175.37" r="0.63" fill="#f0e490" opacity="0.8"/><circle cx="287.05" cy="177.37" r="0.7" fill="#f0e490" opacity="0.8"/><polygon points="293.41,163.55 297.97,164.46 296.73,171.97 291.65,170.99" fill="url(#c3b)" stroke="#6a5a34" stroke-width="1.1" stroke-linejoin="round"/><circle cx="296.72" cy="165.59" r="1.27" fill="#f0e490" opacity="0.8"/><polygon points="223.24,178.29 232.74,176.94 232.36,185.02 224.27,186.36" fill="url(#c3b)" stroke="#6a5a34" stroke-width="1.1" stroke-linejoin="round"/><circle cx="226.1" cy="180.24" r="1.26" fill="#f0e490" opacity="0.8"/><circle cx="231.21" cy="184.61" r="0.77" fill="#f0e490" opacity="0.8"/><circle cx="227.64" cy="184.45" r="0.94" fill="#f0e490" opacity="0.8"/><polygon points="243.02,179.21 251.39,178.83 250.91,187.19 242.55,186.81" fill="#dccc6c" stroke="#6a5a34" stroke-width="1.1" stroke-linejoin="round"/><circle cx="248.7" cy="181.49" r="1.02" fill="#f0e490" opacity="0.8"/><circle cx="249.25" cy="185.08" r="0.73" fill="#f0e490" opacity="0.8"/><polygon points="249.96,175.01 256.66,173.59 257.74,179.06 250.57,180.42" fill="url(#c3b)" stroke="#6a5a34" stroke-width="1.1" stroke-linejoin="round"/><circle cx="255.04" cy="179.44" r="1.08" fill="#f0e490" opacity="0.8"/><polygon points="254.96,182.29 261.95,179.39 265.51,186.53 258,189.61" fill="#dccc6c" stroke="#6a5a34" stroke-width="1.1" stroke-linejoin="round"/><circle cx="261.47" cy="185.89" r="1.11" fill="#f0e490" opacity="0.8"/><circle cx="259.48" cy="185.45" r="0.84" fill="#f0e490" opacity="0.8"/><polygon points="264.57,182.14 271.62,180.14 272.99,186.32 267.39,187.97" fill="#dccc6c" stroke="#6a5a34" stroke-width="1.1" stroke-linejoin="round"/><circle cx="268.29" cy="185.61" r="0.72" fill="#f0e490" opacity="0.8"/><circle cx="269.52" cy="184.44" r="1.3" fill="#f0e490" opacity="0.8"/><polygon points="271.78,185.51 275.85,182.14 278.99,188.33 275.04,190.21" fill="url(#c3a)" stroke="#6a5a34" stroke-width="1.1" stroke-linejoin="round"/><circle cx="273.72" cy="186.82" r="0.68" fill="#f0e490" opacity="0.8"/><polygon points="278.78,182.12 291.42,185.13 289.52,192.61 277.88,189.88" fill="#d4c062" stroke="#6a5a34" stroke-width="1.1" stroke-linejoin="round"/><circle cx="282.82" cy="184.98" r="0.65" fill="#f0e490" opacity="0.8"/><polygon points="232.41,190.88 240.97,186.98 244.87,195.7 236.32,198.78" fill="url(#c3a)" stroke="#6a5a34" stroke-width="1.1" stroke-linejoin="round"/><circle cx="240.93" cy="195.27" r="0.91" fill="#f0e490" opacity="0.8"/><circle cx="239.97" cy="190.91" r="1.22" fill="#f0e490" opacity="0.8"/><circle cx="238.1" cy="192.86" r="1.22" fill="#f0e490" opacity="0.8"/><polygon points="251.93,192.93 260.5,193.82 259.97,200.95 252.06,201.48" fill="#dccc6c" stroke="#6a5a34" stroke-width="1.1" stroke-linejoin="round"/><circle cx="254.87" cy="196.75" r="0.96" fill="#f0e490" opacity="0.8"/><circle cx="255.66" cy="197.93" r="1.06" fill="#f0e490" opacity="0.8"/><polygon points="243.39,196.86 249.64,194.33 251.09,200.72 244.14,202.47" fill="#d4c062" stroke="#6a5a34" stroke-width="1.1" stroke-linejoin="round"/><circle cx="246.66" cy="198.21" r="1.23" fill="#f0e490" opacity="0.8"/><circle cx="248.14" cy="197.88" r="0.89" fill="#f0e490" opacity="0.8"/><polygon points="291.64,178.52 297.98,181.65 295.22,187.88 289.52,184.83" fill="url(#c3b)" stroke="#6a5a34" stroke-width="1.1" stroke-linejoin="round"/><circle cx="292.53" cy="184.58" r="1.18" fill="#f0e490" opacity="0.8"/></g></g><g clip-path="url(#pc3)"><rect x="299.2" y="143.4" width="99.4" height="61" fill="url(#p4bg)"/><g filter="url(#pb)"><polygon points="303.18,153.3 299.97,149.13 303.97,144.8 312.42,145.3 315.44,149.22 310.43,153.41" fill="#ceda52" stroke="#a8b040" stroke-width="0.8" stroke-linejoin="round"/><circle cx="309.78" cy="147.6" r="0.64" fill="#f2f4b0" opacity="0.8"/><circle cx="307.5" cy="148.07" r="0.74" fill="#f2f4b0" opacity="0.8"/><circle cx="310.79" cy="147.65" r="1.18" fill="#f2f4b0" opacity="0.8"/><polygon points="323.14,146.07 322.4,150.01 317.76,150.45 315.34,146.5 319.1,144.59" fill="#ceda52" stroke="#a8b040" stroke-width="0.8" stroke-linejoin="round"/><circle cx="318.83" cy="146.63" r="0.78" fill="#f2f4b0" opacity="0.8"/><circle cx="318.36" cy="148.26" r="0.84" fill="#f2f4b0" opacity="0.8"/><polygon points="339.77,157.26 332.4,155.93 330.04,150.06 337.1,146.12 344.38,148.16 345.69,153.5" fill="#dce860" stroke="#a8b040" stroke-width="0.8" stroke-linejoin="round"/><circle cx="336.61" cy="150.7" r="0.66" fill="#f2f4b0" opacity="0.8"/><circle cx="338.37" cy="151.16" r="0.61" fill="#f2f4b0" opacity="0.8"/><circle cx="335.67" cy="151.51" r="0.89" fill="#f2f4b0" opacity="0.8"/><polygon points="349.48,151.85 347.75,147.44 355.05,144.8 361.98,145.5 362.82,149.78 357.16,152.94" fill="#ceda52" stroke="#a8b040" stroke-width="0.8" stroke-linejoin="round"/><circle cx="355.33" cy="149.07" r="1.2" fill="#f2f4b0" opacity="0.8"/><circle cx="355.1" cy="148.87" r="1.01" fill="#f2f4b0" opacity="0.8"/><polygon points="375.15,145.49 380.31,147.52 379.94,152.43 374.02,155.06 369.83,149.76" fill="#d4e056" stroke="#a8b040" stroke-width="0.8" stroke-linejoin="round"/><circle cx="376.59" cy="151.17" r="0.85" fill="#f2f4b0" opacity="0.8"/><circle cx="375.59" cy="150.44" r="0.77" fill="#f2f4b0" opacity="0.8"/><polygon points="326.57,151.33 331.89,152.49 333.2,156.46 330.6,161.61 327.11,162.58 322.91,158.89 322.75,154.57" fill="#d4e056" stroke="#a8b040" stroke-width="0.8" stroke-linejoin="round"/><circle cx="326" cy="156.61" r="1.25" fill="#f2f4b0" opacity="0.8"/><polygon points="306.01,167.41 302.86,165.17 302.29,161.62 305.18,158.79 309.67,158.54 312.39,161.81 309.71,166.71" fill="#e2ec6c" stroke="#a8b040" stroke-width="0.8" stroke-linejoin="round"/><circle cx="309.23" cy="163.91" r="1.11" fill="#f2f4b0" opacity="0.8"/><polygon points="319.38,159.46 320.83,166.26 317.06,169.04 312.51,164.86 313.84,158.09" fill="#dce860" stroke="#a8b040" stroke-width="0.8" stroke-linejoin="round"/><circle cx="316.16" cy="165.15" r="1.12" fill="#f2f4b0" opacity="0.8"/><polygon points="345.77,170.06 341.36,166.89 338.83,162.39 342.39,157.15 350.13,156.74 353.91,163.08 351.17,166.86" fill="#ceda52" stroke="#a8b040" stroke-width="0.8" stroke-linejoin="round"/><circle cx="346.69" cy="166.23" r="0.85" fill="#f2f4b0" opacity="0.8"/><circle cx="343.63" cy="161.52" r="1.27" fill="#f2f4b0" opacity="0.8"/><circle cx="343.33" cy="162.84" r="0.8" fill="#f2f4b0" opacity="0.8"/><polygon points="354.21,156.66 359.47,155.75 362.74,162.31 360.73,165.3 352.99,165.92 349.35,161.44" fill="#dce860" stroke="#a8b040" stroke-width="0.8" stroke-linejoin="round"/><circle cx="356.54" cy="159.59" r="1.18" fill="#f2f4b0" opacity="0.8"/><circle cx="354.19" cy="162.42" r="0.89" fill="#f2f4b0" opacity="0.8"/><circle cx="353.79" cy="160.48" r="1.11" fill="#f2f4b0" opacity="0.8"/><polygon points="380.03,159.19 374.61,165.74 367.87,160.05 370.59,153.58 376.72,152.67" fill="#e2ec6c" stroke="#a8b040" stroke-width="0.8" stroke-linejoin="round"/><circle cx="373.92" cy="155.75" r="0.82" fill="#f2f4b0" opacity="0.8"/><polygon points="387.27,169.01 381.36,165.31 382.91,158.86 390.23,156.93 395.17,161.87 392.62,167.87" fill="#dce860" stroke="#a8b040" stroke-width="0.8" stroke-linejoin="round"/><circle cx="389.67" cy="161.27" r="0.92" fill="#f2f4b0" opacity="0.8"/><circle cx="387.81" cy="161.94" r="1.26" fill="#f2f4b0" opacity="0.8"/><polygon points="320.32,168.7 322.33,164.25 326.79,163.92 330.58,165.82 330.03,172.93 326.95,173.84 322.16,172.39" fill="#d4e056" stroke="#a8b040" stroke-width="0.8" stroke-linejoin="round"/><circle cx="327.45" cy="171.24" r="0.63" fill="#f2f4b0" opacity="0.8"/><circle cx="326.48" cy="167.85" r="0.93" fill="#f2f4b0" opacity="0.8"/><circle cx="324.6" cy="167.85" r="0.69" fill="#f2f4b0" opacity="0.8"/><polygon points="348.76,169.05 346.19,175.04 338.36,178.64 331.55,175.55 331.56,170.46 335.93,165.93 344,167.54" fill="#dce860" stroke="#a8b040" stroke-width="0.8" stroke-linejoin="round"/><circle cx="338.1" cy="172.05" r="0.66" fill="#f2f4b0" opacity="0.8"/><polygon points="352.76,181.11 353.21,176.26 357.24,172.66 361.49,175 362.85,177.69 361.1,182.48 356.01,183.62" fill="#e2ec6c" stroke="#a8b040" stroke-width="0.8" stroke-linejoin="round"/><circle cx="355.79" cy="177.03" r="1.01" fill="#f2f4b0" opacity="0.8"/><circle cx="358.56" cy="177.04" r="0.73" fill="#f2f4b0" opacity="0.8"/><circle cx="355.99" cy="176.73" r="0.95" fill="#f2f4b0" opacity="0.8"/><polygon points="369.52,167.77 370.22,172.1 367.94,177.18 363.87,177.31 361.21,173.39 361.5,168.82 365.63,165.28" fill="#e2ec6c" stroke="#a8b040" stroke-width="0.8" stroke-linejoin="round"/><circle cx="367.43" cy="171.98" r="0.88" fill="#f2f4b0" opacity="0.8"/><circle cx="365.59" cy="171.42" r="0.99" fill="#f2f4b0" opacity="0.8"/><circle cx="366.26" cy="171.26" r="0.64" fill="#f2f4b0" opacity="0.8"/><polygon points="380.77,180.36 373.19,177.39 373.05,170.25 381.98,167.98 386.85,173.33" fill="#d4e056" stroke="#a8b040" stroke-width="0.8" stroke-linejoin="round"/><circle cx="379.76" cy="170.96" r="0.9" fill="#f2f4b0" opacity="0.8"/><circle cx="382.52" cy="171.14" r="1.08" fill="#f2f4b0" opacity="0.8"/><polygon points="303.27,182.67 301.27,177.86 302.12,171.28 305,168.42 308.72,171.7 310.07,177.94 308.84,181.94" fill="#ceda52" stroke="#a8b040" stroke-width="0.8" stroke-linejoin="round"/><circle cx="306.7" cy="173.3" r="0.99" fill="#f2f4b0" opacity="0.8"/><polygon points="308.03,179.1 311.69,175.19 317.97,178.19 317.02,183.13 314.19,185.55 308.91,185.22" fill="#d4e056" stroke="#a8b040" stroke-width="0.8" stroke-linejoin="round"/><circle cx="315.07" cy="181.14" r="0.68" fill="#f2f4b0" opacity="0.8"/><polygon points="327.06,189.21 323.65,192.91 316.73,191.31 315.14,184.77 319.35,180.21 326.4,182.64" fill="#ceda52" stroke="#a8b040" stroke-width="0.8" stroke-linejoin="round"/><circle cx="323.49" cy="184.97" r="1.12" fill="#f2f4b0" opacity="0.8"/><circle cx="322.42" cy="184.32" r="0.72" fill="#f2f4b0" opacity="0.8"/><circle cx="320.63" cy="187.02" r="0.76" fill="#f2f4b0" opacity="0.8"/><polygon points="304.04,182.75 308.33,188.57 306.11,193.51 298.31,193.02 298.79,186.37" fill="#dce860" stroke="#a8b040" stroke-width="0.8" stroke-linejoin="round"/><circle cx="302.35" cy="190.56" r="0.79" fill="#f2f4b0" opacity="0.8"/><polygon points="338.86,196.55 336.43,191.62 339.55,184.27 345.15,183.48 348.94,189.17 347.35,195.75 342.84,198.04" fill="#d4e056" stroke="#a8b040" stroke-width="0.8" stroke-linejoin="round"/><circle cx="341.93" cy="189.87" r="0.6" fill="#f2f4b0" opacity="0.8"/><circle cx="341.34" cy="189.65" r="0.61" fill="#f2f4b0" opacity="0.8"/><polygon points="358.07,195.65 354.09,195.89 351.09,194.07 350.96,189.96 355.73,188.65 360.08,189.66 360.35,192.2" fill="#dce860" stroke="#a8b040" stroke-width="0.8" stroke-linejoin="round"/><circle cx="356.47" cy="190.38" r="0.75" fill="#f2f4b0" opacity="0.8"/><polygon points="387.38,190.4 380.81,190.68 377.42,184.15 381.47,180.03 389.81,184.03" fill="#ceda52" stroke="#a8b040" stroke-width="0.8" stroke-linejoin="round"/><circle cx="386.19" cy="184.42" r="1.01" fill="#f2f4b0" opacity="0.8"/><circle cx="380.93" cy="187.6" r="0.91" fill="#f2f4b0" opacity="0.8"/><circle cx="383.39" cy="186.71" r="0.7" fill="#f2f4b0" opacity="0.8"/><polygon points="394.94,180.08 390.18,182.79 383.69,180.7 384.05,174.64 388.76,171.39 394.31,173.78" fill="#e2ec6c" stroke="#a8b040" stroke-width="0.8" stroke-linejoin="round"/><circle cx="392.13" cy="178.21" r="1.02" fill="#f2f4b0" opacity="0.8"/><polygon points="329.75,192.68 331.89,194.77 330.3,199.93 325.87,202.49 321.52,199.69 320.69,195.14 324.02,191.77" fill="#ceda52" stroke="#a8b040" stroke-width="0.8" stroke-linejoin="round"/><circle cx="324.47" cy="198.59" r="0.81" fill="#f2f4b0" opacity="0.8"/><circle cx="328.15" cy="194.99" r="0.94" fill="#f2f4b0" opacity="0.8"/><circle cx="325.88" cy="198.22" r="0.74" fill="#f2f4b0" opacity="0.8"/><polygon points="373.11,187.4 371.85,192.07 368.3,191.76 366,188.48 366.79,184.95 370.4,183.86" fill="#e2ec6c" stroke="#a8b040" stroke-width="0.8" stroke-linejoin="round"/><circle cx="369.22" cy="187.7" r="0.63" fill="#f2f4b0" opacity="0.8"/><circle cx="370.54" cy="186.96" r="0.81" fill="#f2f4b0" opacity="0.8"/><polygon points="360.86,183.95 358.92,181.47 357.78,177.27 362.71,174.04 368.63,175.6 370.37,180 368.34,184.42" fill="#ceda52" stroke="#a8b040" stroke-width="0.8" stroke-linejoin="round"/><circle cx="365.77" cy="180.27" r="0.64" fill="#f2f4b0" opacity="0.8"/><circle cx="366.02" cy="178.24" r="1.3" fill="#f2f4b0" opacity="0.8"/><polygon points="320,169.35 316.8,170.61 312.49,166.98 313.41,163.18 317.23,161.52 319.45,162.46 321.85,165.2" fill="#e2ec6c" stroke="#a8b040" stroke-width="0.8" stroke-linejoin="round"/><circle cx="316.79" cy="163.73" r="1.08" fill="#f2f4b0" opacity="0.8"/><polygon points="343.54,166.15 340.76,165.4 338.65,162.88 341.85,159.68 345.37,160.53 346.21,163.49" fill="#e2ec6c" stroke="#a8b040" stroke-width="0.8" stroke-linejoin="round"/><circle cx="341.63" cy="164.16" r="0.6" fill="#f2f4b0" opacity="0.8"/><polygon points="366.62,172.67 368.22,177.18 365.24,179.28 362.51,179.71 359.53,177.47 360.02,173.35 363.2,172.28" fill="#ceda52" stroke="#a8b040" stroke-width="0.8" stroke-linejoin="round"/><circle cx="364.32" cy="175.42" r="0.99" fill="#f2f4b0" opacity="0.8"/><circle cx="363.41" cy="176.38" r="0.96" fill="#f2f4b0" opacity="0.8"/><circle cx="362.81" cy="177.61" r="1.22" fill="#f2f4b0" opacity="0.8"/><polygon points="371.19,162.14 375.94,161.75 378.36,164.06 376.93,168.16 371.79,169.25 369.35,166.33" fill="#ceda52" stroke="#a8b040" stroke-width="0.8" stroke-linejoin="round"/><circle cx="375.19" cy="163.13" r="1.15" fill="#f2f4b0" opacity="0.8"/><circle cx="374.27" cy="165.32" r="0.82" fill="#f2f4b0" opacity="0.8"/><polygon points="362.68,152.89 365.97,153.74 366.85,157.06 363.31,158.51 358.98,158.94 356.2,155.9 358.39,153.52" fill="#d4e056" stroke="#a8b040" stroke-width="0.8" stroke-linejoin="round"/><circle cx="362.38" cy="155.23" r="1.17" fill="#f2f4b0" opacity="0.8"/><polygon points="334.98,194.43 339.96,195.27 341.6,198.2 336.68,199.98 332.35,197.74" fill="#d4e056" stroke="#a8b040" stroke-width="0.8" stroke-linejoin="round"/><circle cx="338.84" cy="195.9" r="0.65" fill="#f2f4b0" opacity="0.8"/><circle cx="337.53" cy="196.16" r="1.04" fill="#f2f4b0" opacity="0.8"/><polygon points="361.43,157.28 360.31,154.53 363.62,151.2 368.08,153.58 368.52,156 364.79,159.23" fill="#dce860" stroke="#a8b040" stroke-width="0.8" stroke-linejoin="round"/><circle cx="363.19" cy="154.17" r="1.08" fill="#f2f4b0" opacity="0.8"/><polygon points="310.25,177.44 306.55,176.05 307.35,173.61 309.66,172.65 314.74,173.06 317.52,174.36 315,177.75" fill="#d4e056" stroke="#a8b040" stroke-width="0.8" stroke-linejoin="round"/><circle cx="312.1" cy="176.08" r="1.09" fill="#f2f4b0" opacity="0.8"/><polygon points="355.36,174.74 351.91,173.55 350.93,171.68 353.46,169.03 355.56,168.93 358.95,171.18 357.12,173.39" fill="#d4e056" stroke="#a8b040" stroke-width="0.8" stroke-linejoin="round"/><circle cx="353.47" cy="170.96" r="0.89" fill="#f2f4b0" opacity="0.8"/><circle cx="355.71" cy="170.56" r="1.25" fill="#f2f4b0" opacity="0.8"/><polygon points="310.05,200.49 310.86,204.89 308.42,206.63 305.29,206.36 303.09,203.6 303.06,199.6 307.79,198.11" fill="#e2ec6c" stroke="#a8b040" stroke-width="0.8" stroke-linejoin="round"/><circle cx="307.37" cy="203.96" r="1.18" fill="#f2f4b0" opacity="0.8"/><circle cx="307.71" cy="202.02" r="0.78" fill="#f2f4b0" opacity="0.8"/><polygon points="314.79,178.24 316.91,175.36 321.2,176.15 321.97,181.41 318.53,183.83 314.79,181.79" fill="#e2ec6c" stroke="#a8b040" stroke-width="0.8" stroke-linejoin="round"/><circle cx="319.1" cy="178.3" r="0.96" fill="#f2f4b0" opacity="0.8"/><circle cx="318.69" cy="179.37" r="1.06" fill="#f2f4b0" opacity="0.8"/><polygon points="390.76,194.42 385.58,194.11 383.46,191.73 386.22,188.73 392.58,189.05 395.32,191.57" fill="#dce860" stroke="#a8b040" stroke-width="0.8" stroke-linejoin="round"/><circle cx="389.81" cy="191.2" r="0.67" fill="#f2f4b0" opacity="0.8"/><circle cx="391.47" cy="191.39" r="0.9" fill="#f2f4b0" opacity="0.8"/><circle cx="390.32" cy="191.15" r="1.3" fill="#f2f4b0" opacity="0.8"/><polygon points="345.08,176.86 349.5,176.66 352.22,181.04 350.03,182.62 344.63,183.81 342.64,182.34 341.53,178.66" fill="#dce860" stroke="#a8b040" stroke-width="0.8" stroke-linejoin="round"/><circle cx="348.22" cy="179.04" r="0.6" fill="#f2f4b0" opacity="0.8"/><circle cx="349.11" cy="179.93" r="0.67" fill="#f2f4b0" opacity="0.8"/><polygon points="317.03,184.75 321.66,183.75 324.58,186.11 323.74,189.29 318.68,189.7 315.88,188.43" fill="#e2ec6c" stroke="#a8b040" stroke-width="0.8" stroke-linejoin="round"/><circle cx="319.3" cy="186.48" r="0.93" fill="#f2f4b0" opacity="0.8"/><rect x="395.8" y="143.6" width="2.8" height="61" fill="#6a6a5a" opacity="0.6"/></g></g><rect x="81" y="196.4" width="23.9" height="6.5" fill="#050505"/><rect x="89.7" y="194.5" width="10.8" height="1.6" fill="#111"/><text x="92.95" y="201.3" font-family="'Liberation Sans', Arial, sans-serif" font-weight="bold" font-size="5.4" fill="#fff" text-anchor="middle">1.00 mm</text><rect x="177.3" y="195.9" width="23.6" height="6.9" fill="#050505"/><rect x="185.2" y="194" width="9.8" height="1.6" fill="#111"/><text x="189.1" y="201.2" font-family="'Liberation Sans', Arial, sans-serif" font-weight="bold" font-size="5.4" fill="#fff" text-anchor="middle">1.00 mm</text><rect x="267.9" y="194.9" width="24" height="7" fill="#050505"/><rect x="274.7" y="192.5" width="9.9" height="1.6" fill="#111"/><text x="279.9" y="200.3" font-family="'Liberation Sans', Arial, sans-serif" font-weight="bold" font-size="5.4" fill="#fff" text-anchor="middle">1.00 mm</text><rect x="371.8" y="196.4" width="23.6" height="6.4" fill="#050505"/><rect x="380.7" y="194" width="11.3" height="1.6" fill="#111"/><text x="383.6" y="201.2" font-family="'Liberation Sans', Arial, sans-serif" font-weight="bold" font-size="5.4" fill="#fff" text-anchor="middle">1.00 mm</text><rect x="9.2" y="203.6" width="389.6" height="11.6" fill="url(#bar)"/><g font-family="'Liberation Sans', Arial, sans-serif" font-weight="bold" font-size="7.3" fill="#e8ecf8" text-anchor="middle"><text x="54.7" y="211.8">MOF-5</text><text x="151.5" y="211.8">CUR@MOF-5</text><text x="251" y="211.8">SUL@MOF-5</text><text x="348.2" y="211.8">TAT@MOF-5</text></g><path d="M36.1 224.2L36.1 354.3L193.03 354.3" stroke="#000" stroke-width="1.8" fill="none"/><path d="M36.1 354.3L39.9 354.3M36.1 339.84L39.9 339.84M36.1 325.38L39.9 325.38M36.1 310.92L39.9 310.92M36.1 296.46L39.9 296.46M36.1 282L39.9 282M36.1 267.54L39.9 267.54M36.1 253.08L39.9 253.08M36.1 238.62L39.9 238.62M36.1 224.16L39.9 224.16M35.6 354.3L35.6 350.8M67.09 354.3L67.09 350.8M98.57 354.3L98.57 350.8M130.06 354.3L130.06 350.8M161.54 354.3L161.54 350.8M193.03 354.3L193.03 350.8" stroke="#000" stroke-width="1.2" fill="none"/><g font-family="'Liberation Sans', Arial, sans-serif" font-weight="bold" font-size="9.9" fill="#111" stroke="#111" stroke-width="0.5"><text x="31.5" y="357.8" text-anchor="end">0</text><text x="31.5" y="343.34" text-anchor="end">1</text><text x="31.5" y="328.88" text-anchor="end">2</text><text x="31.5" y="314.42" text-anchor="end">3</text><text x="31.5" y="299.96" text-anchor="end">4</text><text x="31.5" y="285.5" text-anchor="end">5</text><text x="31.5" y="271.04" text-anchor="end">6</text><text x="31.5" y="256.58" text-anchor="end">7</text><text x="31.5" y="242.12" text-anchor="end">8</text><text x="31.5" y="227.66" text-anchor="end">9</text><text x="35.6" y="366.7" text-anchor="middle">0</text><text x="67.09" y="366.7" text-anchor="middle">50</text><text x="98.57" y="366.7" text-anchor="middle">100</text><text x="130.06" y="366.7" text-anchor="middle">150</text><text x="161.54" y="366.7" text-anchor="middle">200</text><text x="193.03" y="366.7" text-anchor="middle">250</text></g><text x="114.5" y="378.9" font-family="'Liberation Sans', Arial, sans-serif" font-weight="bold" font-size="10.2" fill="#111" stroke="#111" stroke-width="0.5" text-anchor="middle">Time in min</text><text transform="translate(19,296.6) rotate(-90)" font-family="'Liberation Sans', Arial, sans-serif" font-weight="bold" font-size="10.6" fill="#111" stroke="#111" stroke-width="0.45" text-anchor="middle" textLength="112.5" lengthAdjust="spacingAndGlyphs">Concentration in µg/mL</text><text x="9.3" y="229.6" font-family="'Liberation Serif', 'Times New Roman', serif" font-weight="bold" font-size="14" fill="#111" stroke="#111" stroke-width="0.25">(c)</text><polyline points="35.6,342.01 36.23,340.56 36.86,339.84 37.49,339.55 38.12,339.12 38.75,338.83 39.38,338.39 40.64,338.1 41.9,337.67 43.16,337.38 45.05,336.95 48.19,336.23 51.34,335.79 54.49,335.5 63.94,335.5 73.38,334.35 92.27,332.61 111.16,331.16 130.06,325.67 148.95,325.38 167.84,324.22 186.73,323.21" fill="none" stroke="#1a8c1e" stroke-width="1.6" stroke-linejoin="round"/><path d="M130.06 323.5L130.06 327.84M128.66 323.5L131.46 323.5M128.66 327.84L131.46 327.84" stroke="#1a8c1e" stroke-width="0.7" fill="none" opacity="0.7"/><path d="M33.5 339.91h4.2v4.2h-4.2ZM34.13 338.46h4.2v4.2h-4.2ZM34.76 337.74h4.2v4.2h-4.2ZM35.39 337.45h4.2v4.2h-4.2ZM36.02 337.02h4.2v4.2h-4.2ZM36.65 336.73h4.2v4.2h-4.2ZM37.28 336.29h4.2v4.2h-4.2ZM38.54 336h4.2v4.2h-4.2ZM39.8 335.57h4.2v4.2h-4.2ZM41.06 335.28h4.2v4.2h-4.2ZM42.95 334.85h4.2v4.2h-4.2ZM46.09 334.12h4.2v4.2h-4.2ZM49.24 333.69h4.2v4.2h-4.2ZM52.39 333.4h4.2v4.2h-4.2ZM61.84 333.4h4.2v4.2h-4.2ZM71.28 332.25h4.2v4.2h-4.2ZM90.17 330.51h4.2v4.2h-4.2ZM109.06 329.06h4.2v4.2h-4.2ZM127.96 323.57h4.2v4.2h-4.2ZM146.85 323.28h4.2v4.2h-4.2ZM165.74 322.12h4.2v4.2h-4.2ZM184.63 321.11h4.2v4.2h-4.2Z" fill="#0a3a0e"/><polyline points="35.6,349.96 36.23,347.07 36.86,345.62 37.49,344.47 38.12,343.6 38.75,342.73 39.38,342.01 40.64,341 41.9,340.13 43.16,339.41 45.05,338.68 48.19,337.67 51.34,336.95 54.49,336.66 63.94,334.78 73.38,334.35 92.27,330.87 111.16,331.6 130.06,328.85 148.95,326.54 167.84,324.66 186.73,323.21" fill="none" stroke="#c81414" stroke-width="1.6" stroke-linejoin="round"/><path d="M92.27 327.98L92.27 333.77M90.87 327.98L93.67 327.98M90.87 333.77L93.67 333.77M111.16 328.71L111.16 334.49M109.76 328.71L112.56 328.71M109.76 334.49L112.56 334.49M130.06 325.24L130.06 332.47M128.66 325.24L131.46 325.24M128.66 332.47L131.46 332.47M186.73 318.87L186.73 327.55M185.33 318.87L188.13 318.87M185.33 327.55L188.13 327.55" stroke="#c81414" stroke-width="0.7" fill="none" opacity="0.7"/><path d="M33.05 349.96a2.55 2.55 0 1 0 5.1 0a2.55 2.55 0 1 0 -5.1 0ZM33.68 347.07a2.55 2.55 0 1 0 5.1 0a2.55 2.55 0 1 0 -5.1 0ZM34.31 345.62a2.55 2.55 0 1 0 5.1 0a2.55 2.55 0 1 0 -5.1 0ZM34.94 344.47a2.55 2.55 0 1 0 5.1 0a2.55 2.55 0 1 0 -5.1 0ZM35.57 343.6a2.55 2.55 0 1 0 5.1 0a2.55 2.55 0 1 0 -5.1 0ZM36.2 342.73a2.55 2.55 0 1 0 5.1 0a2.55 2.55 0 1 0 -5.1 0ZM36.83 342.01a2.55 2.55 0 1 0 5.1 0a2.55 2.55 0 1 0 -5.1 0ZM38.09 341a2.55 2.55 0 1 0 5.1 0a2.55 2.55 0 1 0 -5.1 0ZM39.35 340.13a2.55 2.55 0 1 0 5.1 0a2.55 2.55 0 1 0 -5.1 0ZM40.61 339.41a2.55 2.55 0 1 0 5.1 0a2.55 2.55 0 1 0 -5.1 0ZM42.5 338.68a2.55 2.55 0 1 0 5.1 0a2.55 2.55 0 1 0 -5.1 0ZM45.64 337.67a2.55 2.55 0 1 0 5.1 0a2.55 2.55 0 1 0 -5.1 0ZM48.79 336.95a2.55 2.55 0 1 0 5.1 0a2.55 2.55 0 1 0 -5.1 0ZM51.94 336.66a2.55 2.55 0 1 0 5.1 0a2.55 2.55 0 1 0 -5.1 0ZM61.39 334.78a2.55 2.55 0 1 0 5.1 0a2.55 2.55 0 1 0 -5.1 0ZM70.83 334.35a2.55 2.55 0 1 0 5.1 0a2.55 2.55 0 1 0 -5.1 0ZM89.72 330.87a2.55 2.55 0 1 0 5.1 0a2.55 2.55 0 1 0 -5.1 0ZM108.61 331.6a2.55 2.55 0 1 0 5.1 0a2.55 2.55 0 1 0 -5.1 0ZM127.51 328.85a2.55 2.55 0 1 0 5.1 0a2.55 2.55 0 1 0 -5.1 0ZM146.4 326.54a2.55 2.55 0 1 0 5.1 0a2.55 2.55 0 1 0 -5.1 0ZM165.29 324.66a2.55 2.55 0 1 0 5.1 0a2.55 2.55 0 1 0 -5.1 0ZM184.18 323.21a2.55 2.55 0 1 0 5.1 0a2.55 2.55 0 1 0 -5.1 0Z" fill="#f01414"/><polyline points="35.6,354.3 38.75,326.83 41.9,306.58 45.05,287.06 48.19,279.98 51.34,273.32 54.49,263.2 63.94,254.96 73.38,253.08 92.27,246.72 111.16,242.96 130.06,239.63 148.95,232.84 167.84,233.41 186.73,232.84" fill="none" stroke="#16209a" stroke-width="1.9" stroke-linejoin="round"/><path d="M148.95 227.78L148.95 237.9M147.55 227.78L150.35 227.78M147.55 237.9L150.35 237.9M186.73 230.67L186.73 235M185.33 230.67L188.13 230.67M185.33 235L188.13 235" stroke="#16209a" stroke-width="0.7" fill="none" opacity="0.7"/><path d="M38.75 323.73L41.55 328.73L35.95 328.73ZM41.9 303.48L44.7 308.48L39.1 308.48ZM45.05 283.96L47.85 288.96L42.25 288.96ZM48.19 276.88L50.99 281.88L45.39 281.88ZM51.34 270.22L54.14 275.22L48.54 275.22ZM54.49 260.1L57.29 265.1L51.69 265.1ZM63.94 251.86L66.74 256.86L61.14 256.86ZM73.38 249.98L76.18 254.98L70.58 254.98ZM92.27 243.62L95.07 248.62L89.47 248.62ZM111.16 239.86L113.96 244.86L108.36 244.86ZM130.06 236.53L132.86 241.53L127.26 241.53ZM148.95 229.74L151.75 234.74L146.15 234.74ZM167.84 230.31L170.64 235.31L165.04 235.31ZM186.73 229.74L189.53 234.74L183.93 234.74Z" fill="#101a88"/><line x1="92.1" y1="263.3" x2="113.1" y2="263.3" stroke="#1a8c1e" stroke-width="1.4"/><rect x="100.5" y="261.2" width="4.2" height="4.2" rx="0.8" fill="#0a3a0e"/><text transform="translate(115.4,266.9) scale(0.975,1)" font-family="'Liberation Sans', Arial, sans-serif" font-weight="bold" font-size="10.3" fill="#111" stroke="#111" stroke-width="0.5">CUR</text><line x1="92.1" y1="275.7" x2="113.1" y2="275.7" stroke="#c81414" stroke-width="1.4"/><circle cx="102.6" cy="275.7" r="2.55" fill="#f01414"/><text transform="translate(115.4,279.3) scale(0.975,1)" font-family="'Liberation Sans', Arial, sans-serif" font-weight="bold" font-size="10.3" fill="#111" stroke="#111" stroke-width="0.5">CUR/MOF-5 PM</text><line x1="92.1" y1="288.1" x2="113.1" y2="288.1" stroke="#16209a" stroke-width="1.4"/><path d="M102.6 285L105.4 290L99.8 290Z" fill="#101a88"/><text transform="translate(115.4,291.7) scale(0.975,1)" font-family="'Liberation Sans', Arial, sans-serif" font-weight="bold" font-size="10.3" fill="#111" stroke="#111" stroke-width="0.5">CUR@MOF-5</text><path d="M234.6 224.9L234.6 352.3L389.4 352.3" stroke="#000" stroke-width="1.8" fill="none"/><path d="M234.6 352L238.4 352M234.6 336.12L238.4 336.12M234.6 320.24L238.4 320.24M234.6 304.36L238.4 304.36M234.6 288.48L238.4 288.48M234.6 272.6L238.4 272.6M234.6 256.72L238.4 256.72M234.6 240.84L238.4 240.84M234.6 224.96L238.4 224.96M234.4 352.3L234.4 348.8M265.4 352.3L265.4 348.8M296.4 352.3L296.4 348.8M327.4 352.3L327.4 348.8M358.4 352.3L358.4 348.8M389.4 352.3L389.4 348.8" stroke="#000" stroke-width="1.2" fill="none"/><g font-family="'Liberation Sans', Arial, sans-serif" font-weight="bold" font-size="9.9" fill="#111" stroke="#111" stroke-width="0.5"><text x="230.8" y="355.5" text-anchor="end">0</text><text x="230.8" y="339.62" text-anchor="end">2</text><text x="230.8" y="323.74" text-anchor="end">4</text><text x="230.8" y="307.86" text-anchor="end">6</text><text x="230.8" y="291.98" text-anchor="end">8</text><text x="230.8" y="276.1" text-anchor="end">10</text><text x="230.8" y="260.22" text-anchor="end">12</text><text x="230.8" y="244.34" text-anchor="end">14</text><text x="230.8" y="228.46" text-anchor="end">6</text><text x="234.4" y="364.7" text-anchor="middle">0</text><text x="265.4" y="364.7" text-anchor="middle">50</text><text x="296.4" y="364.7" text-anchor="middle">100</text><text x="327.4" y="364.7" text-anchor="middle">150</text><text x="358.4" y="364.7" text-anchor="middle">200</text><text x="389.4" y="364.7" text-anchor="middle">250</text></g><text x="306.7" y="376.1" font-family="'Liberation Sans', Arial, sans-serif" font-weight="bold" font-size="10.2" fill="#111" stroke="#111" stroke-width="0.5" text-anchor="middle">Time in min</text><text transform="translate(212.6,295.1) rotate(-90)" font-family="'Liberation Sans', Arial, sans-serif" font-weight="bold" font-size="10.6" fill="#111" stroke="#111" stroke-width="0.45" text-anchor="middle" textLength="111.5" lengthAdjust="spacingAndGlyphs">Concentration in µg/mL</text><text x="206.2" y="228.6" font-family="'Liberation Serif', 'Times New Roman', serif" font-weight="bold" font-size="14" fill="#111" stroke="#111" stroke-width="0.25">(d)</text><polyline points="234.4,351.21 237.5,350.41 240.6,350.01 243.7,349.78 246.8,349.62 249.9,349.46 253,349.3 262.3,348.82 271.6,348.43 290.2,347.63 308.8,347.08 327.4,346.44 346,345.81 364.6,345.25 383.2,344.7" fill="none" stroke="#1a8c1e" stroke-width="1.6" stroke-linejoin="round"/><path d="M232.3 349.11h4.2v4.2h-4.2ZM235.4 348.31h4.2v4.2h-4.2ZM238.5 347.91h4.2v4.2h-4.2ZM241.6 347.68h4.2v4.2h-4.2ZM244.7 347.52h4.2v4.2h-4.2ZM247.8 347.36h4.2v4.2h-4.2ZM250.9 347.2h4.2v4.2h-4.2ZM260.2 346.72h4.2v4.2h-4.2ZM269.5 346.33h4.2v4.2h-4.2ZM288.1 345.53h4.2v4.2h-4.2ZM306.7 344.98h4.2v4.2h-4.2ZM325.3 344.34h4.2v4.2h-4.2ZM343.9 343.71h4.2v4.2h-4.2ZM362.5 343.15h4.2v4.2h-4.2ZM381.1 342.6h4.2v4.2h-4.2Z" fill="#0a3a0e"/><polyline points="234.4,349.22 235.02,348.43 235.64,348.03 236.26,347.87 237.5,347.63 239.36,347.47 240.6,347.39 243.7,347.24 246.8,347.08 249.9,347 253,346.92 262.3,347.24 271.6,347.24 290.2,346.68 308.8,346.28 327.4,346.28 346,345.89 364.6,345.65 383.2,344.38" fill="none" stroke="#c81414" stroke-width="1.6" stroke-linejoin="round"/><path d="M231.85 349.22a2.55 2.55 0 1 0 5.1 0a2.55 2.55 0 1 0 -5.1 0ZM232.47 348.43a2.55 2.55 0 1 0 5.1 0a2.55 2.55 0 1 0 -5.1 0ZM233.09 348.03a2.55 2.55 0 1 0 5.1 0a2.55 2.55 0 1 0 -5.1 0ZM233.71 347.87a2.55 2.55 0 1 0 5.1 0a2.55 2.55 0 1 0 -5.1 0ZM234.95 347.63a2.55 2.55 0 1 0 5.1 0a2.55 2.55 0 1 0 -5.1 0ZM236.81 347.47a2.55 2.55 0 1 0 5.1 0a2.55 2.55 0 1 0 -5.1 0ZM238.05 347.39a2.55 2.55 0 1 0 5.1 0a2.55 2.55 0 1 0 -5.1 0ZM241.15 347.24a2.55 2.55 0 1 0 5.1 0a2.55 2.55 0 1 0 -5.1 0ZM244.25 347.08a2.55 2.55 0 1 0 5.1 0a2.55 2.55 0 1 0 -5.1 0ZM247.35 347a2.55 2.55 0 1 0 5.1 0a2.55 2.55 0 1 0 -5.1 0ZM250.45 346.92a2.55 2.55 0 1 0 5.1 0a2.55 2.55 0 1 0 -5.1 0ZM259.75 347.24a2.55 2.55 0 1 0 5.1 0a2.55 2.55 0 1 0 -5.1 0ZM269.05 347.24a2.55 2.55 0 1 0 5.1 0a2.55 2.55 0 1 0 -5.1 0ZM287.65 346.68a2.55 2.55 0 1 0 5.1 0a2.55 2.55 0 1 0 -5.1 0ZM306.25 346.28a2.55 2.55 0 1 0 5.1 0a2.55 2.55 0 1 0 -5.1 0ZM324.85 346.28a2.55 2.55 0 1 0 5.1 0a2.55 2.55 0 1 0 -5.1 0ZM343.45 345.89a2.55 2.55 0 1 0 5.1 0a2.55 2.55 0 1 0 -5.1 0ZM362.05 345.65a2.55 2.55 0 1 0 5.1 0a2.55 2.55 0 1 0 -5.1 0ZM380.65 344.38a2.55 2.55 0 1 0 5.1 0a2.55 2.55 0 1 0 -5.1 0Z" fill="#f01414"/><polyline points="234.4,352 237.5,322.15 240.6,310.71 243.7,301.18 246.8,294.83 249.9,288.48 253,280.14 262.3,267.04 271.6,259.1 290.2,251.96 308.8,247.19 327.4,244.81 346,242.03 364.6,242.43 383.2,242.03" fill="none" stroke="#16209a" stroke-width="1.9" stroke-linejoin="round"/><path d="M327.4 241.24L327.4 248.38M326 241.24L328.8 241.24M326 248.38L328.8 248.38M346 237.66L346 246.4M344.6 237.66L347.4 237.66M344.6 246.4L347.4 246.4M383.2 239.65L383.2 244.41M381.8 239.65L384.6 239.65M381.8 244.41L384.6 244.41" stroke="#16209a" stroke-width="0.7" fill="none" opacity="0.7"/><path d="M237.5 319.05L240.3 324.05L234.7 324.05ZM240.6 307.61L243.4 312.61L237.8 312.61ZM243.7 298.08L246.5 303.08L240.9 303.08ZM246.8 291.73L249.6 296.73L244 296.73ZM249.9 285.38L252.7 290.38L247.1 290.38ZM253 277.04L255.8 282.04L250.2 282.04ZM262.3 263.94L265.1 268.94L259.5 268.94ZM271.6 256L274.4 261L268.8 261ZM290.2 248.86L293 253.86L287.4 253.86ZM308.8 244.09L311.6 249.09L306 249.09ZM327.4 241.71L330.2 246.71L324.6 246.71ZM346 238.93L348.8 243.93L343.2 243.93ZM364.6 239.33L367.4 244.33L361.8 244.33ZM383.2 238.93L386 243.93L380.4 243.93Z" fill="#101a88"/><line x1="295.2" y1="263.7" x2="316.2" y2="263.7" stroke="#1a8c1e" stroke-width="1.4"/><rect x="303.6" y="261.6" width="4.2" height="4.2" rx="0.8" fill="#0a3a0e"/><text transform="translate(318.6,267.3) scale(0.975,1)" font-family="'Liberation Sans', Arial, sans-serif" font-weight="bold" font-size="10.3" fill="#111" stroke="#111" stroke-width="0.5">CUR</text><line x1="295.2" y1="275.9" x2="316.2" y2="275.9" stroke="#c81414" stroke-width="1.4"/><circle cx="305.7" cy="275.9" r="2.55" fill="#f01414"/><text transform="translate(318.6,279.5) scale(0.975,1)" font-family="'Liberation Sans', Arial, sans-serif" font-weight="bold" font-size="10.3" fill="#111" stroke="#111" stroke-width="0.5">CUR/MOF-5 PM</text><line x1="295.2" y1="288.2" x2="316.2" y2="288.2" stroke="#16209a" stroke-width="1.4"/><path d="M305.7 285.1L308.5 290.1L302.9 290.1Z" fill="#101a88"/><text transform="translate(318.6,291.8) scale(0.975,1)" font-family="'Liberation Sans', Arial, sans-serif" font-weight="bold" font-size="10.3" fill="#111" stroke="#111" stroke-width="0.5">CUR@MOF-5</text><path d="M38.35 389.3L38.35 519.1L194.65 519.1" stroke="#000" stroke-width="1.8" fill="none"/><path d="M38.35 519.2L42.15 519.2M38.35 497.5L42.15 497.5M38.35 475.8L42.15 475.8M38.35 454.1L42.15 454.1M38.35 432.4L42.15 432.4M38.35 410.7L42.15 410.7M38.35 389L42.15 389M37.9 519.1L37.9 515.6M69.25 519.1L69.25 515.6M100.6 519.1L100.6 515.6M131.95 519.1L131.95 515.6M163.3 519.1L163.3 515.6M194.65 519.1L194.65 515.6" stroke="#000" stroke-width="1.2" fill="none"/><g font-family="'Liberation Sans', Arial, sans-serif" font-weight="bold" font-size="9.9" fill="#111" stroke="#111" stroke-width="0.5"><text x="32.75" y="522.7" text-anchor="end">0</text><text x="32.75" y="501" text-anchor="end">10</text><text x="32.75" y="479.3" text-anchor="end">20</text><text x="32.75" y="457.6" text-anchor="end">30</text><text x="32.75" y="435.9" text-anchor="end">40</text><text x="32.75" y="414.2" text-anchor="end">50</text><text x="37.9" y="531.5" text-anchor="middle">0</text><text x="69.25" y="531.5" text-anchor="middle">50</text><text x="100.6" y="531.5" text-anchor="middle">100</text><text x="131.95" y="531.5" text-anchor="middle">150</text><text x="163.3" y="531.5" text-anchor="middle">200</text><text x="194.65" y="531.5" text-anchor="middle">250</text></g><text x="116.1" y="544.1" font-family="'Liberation Sans', Arial, sans-serif" font-weight="bold" font-size="10.2" fill="#111" stroke="#111" stroke-width="0.5" text-anchor="middle">Time in min</text><text transform="translate(18.6,461) rotate(-90)" font-family="'Liberation Sans', Arial, sans-serif" font-weight="bold" font-size="10.6" fill="#111" stroke="#111" stroke-width="0.45" text-anchor="middle" textLength="112.5" lengthAdjust="spacingAndGlyphs">Concentration in µg/mL</text><text x="10.1" y="393" font-family="'Liberation Serif', 'Times New Roman', serif" font-weight="bold" font-size="14" fill="#111" stroke="#111" stroke-width="0.25">(e)</text><polyline points="37.9,517.9 40.41,515.73 42.29,513.56 44.17,512.04 47.3,510.95 50.44,510.09 53.58,509.44 56.71,509.11 66.11,507.92 75.52,507.59 94.33,506.4 113.14,505.96 131.95,505.53 150.76,505.1 169.57,504.88 188.38,504.66" fill="none" stroke="#1a8c1e" stroke-width="1.6" stroke-linejoin="round"/><path d="M35.8 515.8h4.2v4.2h-4.2ZM38.31 513.63h4.2v4.2h-4.2ZM40.19 511.46h4.2v4.2h-4.2ZM42.07 509.94h4.2v4.2h-4.2ZM45.2 508.85h4.2v4.2h-4.2ZM48.34 507.99h4.2v4.2h-4.2ZM51.48 507.34h4.2v4.2h-4.2ZM54.61 507.01h4.2v4.2h-4.2ZM64.02 505.82h4.2v4.2h-4.2ZM73.42 505.49h4.2v4.2h-4.2ZM92.23 504.3h4.2v4.2h-4.2ZM111.04 503.86h4.2v4.2h-4.2ZM129.85 503.43h4.2v4.2h-4.2ZM148.66 503h4.2v4.2h-4.2ZM167.47 502.78h4.2v4.2h-4.2ZM186.28 502.56h4.2v4.2h-4.2Z" fill="#0a3a0e"/><polyline points="37.9,514.43 40.41,512.04 44.17,505.31 47.3,503.14 50.44,500.97 53.58,499.24 56.71,498.59 66.11,496.2 75.52,495.33 94.33,493.38 113.14,492.29 131.95,491.42 150.76,489.91 169.57,489.25 188.38,488.82" fill="none" stroke="#c81414" stroke-width="1.6" stroke-linejoin="round"/><path d="M35.35 514.43a2.55 2.55 0 1 0 5.1 0a2.55 2.55 0 1 0 -5.1 0ZM37.86 512.04a2.55 2.55 0 1 0 5.1 0a2.55 2.55 0 1 0 -5.1 0ZM41.62 505.31a2.55 2.55 0 1 0 5.1 0a2.55 2.55 0 1 0 -5.1 0ZM44.76 503.14a2.55 2.55 0 1 0 5.1 0a2.55 2.55 0 1 0 -5.1 0ZM47.89 500.97a2.55 2.55 0 1 0 5.1 0a2.55 2.55 0 1 0 -5.1 0ZM51.03 499.24a2.55 2.55 0 1 0 5.1 0a2.55 2.55 0 1 0 -5.1 0ZM54.16 498.59a2.55 2.55 0 1 0 5.1 0a2.55 2.55 0 1 0 -5.1 0ZM63.56 496.2a2.55 2.55 0 1 0 5.1 0a2.55 2.55 0 1 0 -5.1 0ZM72.97 495.33a2.55 2.55 0 1 0 5.1 0a2.55 2.55 0 1 0 -5.1 0ZM91.78 493.38a2.55 2.55 0 1 0 5.1 0a2.55 2.55 0 1 0 -5.1 0ZM110.59 492.29a2.55 2.55 0 1 0 5.1 0a2.55 2.55 0 1 0 -5.1 0ZM129.4 491.42a2.55 2.55 0 1 0 5.1 0a2.55 2.55 0 1 0 -5.1 0ZM148.21 489.91a2.55 2.55 0 1 0 5.1 0a2.55 2.55 0 1 0 -5.1 0ZM167.02 489.25a2.55 2.55 0 1 0 5.1 0a2.55 2.55 0 1 0 -5.1 0ZM185.83 488.82a2.55 2.55 0 1 0 5.1 0a2.55 2.55 0 1 0 -5.1 0Z" fill="#f01414"/><polyline points="37.9,519.2 41.03,459.96 44.17,442.6 47.3,430.66 50.44,422.42 53.58,417.21 56.71,412.87 66.11,408.1 75.52,409.4 94.33,419.16 113.14,427.19 131.95,432.83 150.76,436.31 169.57,439.34 188.38,441.3" fill="none" stroke="#16209a" stroke-width="1.9" stroke-linejoin="round"/><path d="M41.03 456.86L43.83 461.86L38.23 461.86ZM44.17 439.5L46.97 444.5L41.37 444.5ZM47.3 427.56L50.1 432.56L44.51 432.56ZM50.44 419.32L53.24 424.32L47.64 424.32ZM53.58 414.11L56.38 419.11L50.78 419.11ZM56.71 409.77L59.51 414.77L53.91 414.77ZM66.11 405L68.91 410L63.31 410ZM75.52 406.3L78.32 411.3L72.72 411.3ZM94.33 416.06L97.13 421.06L91.53 421.06ZM113.14 424.09L115.94 429.09L110.34 429.09ZM131.95 429.73L134.75 434.73L129.15 434.73ZM150.76 433.21L153.56 438.21L147.96 438.21ZM169.57 436.24L172.37 441.24L166.77 441.24ZM188.38 438.2L191.18 443.2L185.58 443.2Z" fill="#101a88"/><line x1="101.1" y1="389.8" x2="122.1" y2="389.8" stroke="#1a8c1e" stroke-width="1.4"/><rect x="109.5" y="387.7" width="4.2" height="4.2" rx="0.8" fill="#0a3a0e"/><text transform="translate(124.5,393.4) scale(0.975,1)" font-family="'Liberation Sans', Arial, sans-serif" font-weight="bold" font-size="10.3" fill="#111" stroke="#111" stroke-width="0.5">SUL</text><line x1="101.1" y1="402" x2="122.1" y2="402" stroke="#c81414" stroke-width="1.4"/><circle cx="111.6" cy="402" r="2.55" fill="#f01414"/><text transform="translate(124.5,405.6) scale(0.975,1)" font-family="'Liberation Sans', Arial, sans-serif" font-weight="bold" font-size="10.3" fill="#111" stroke="#111" stroke-width="0.5">SUL/MOF-5 PM</text><line x1="101.1" y1="414.3" x2="122.1" y2="414.3" stroke="#16209a" stroke-width="1.4"/><path d="M111.6 411.2L114.4 416.2L108.8 416.2Z" fill="#101a88"/><text transform="translate(124.5,417.9) scale(0.975,1)" font-family="'Liberation Sans', Arial, sans-serif" font-weight="bold" font-size="10.3" fill="#111" stroke="#111" stroke-width="0.5">SUL@MOF-5</text><path d="M231.3 389L231.3 519.8L389.5 519.8" stroke="#000" stroke-width="1.8" fill="none"/><path d="M231.3 519.6L235.1 519.6M231.3 497.85L235.1 497.85M231.3 476.1L235.1 476.1M231.3 454.35L235.1 454.35M231.3 432.6L235.1 432.6M231.3 410.85L235.1 410.85M231.3 389.1L235.1 389.1M231 519.8L231 516.3M262.7 519.8L262.7 516.3M294.4 519.8L294.4 516.3M326.1 519.8L326.1 516.3M357.8 519.8L357.8 516.3M389.5 519.8L389.5 516.3" stroke="#000" stroke-width="1.2" fill="none"/><g font-family="'Liberation Sans', Arial, sans-serif" font-weight="bold" font-size="9.9" fill="#111" stroke="#111" stroke-width="0.5"><text x="226.6" y="523.1" text-anchor="end">0</text><text x="226.6" y="501.35" text-anchor="end">10</text><text x="226.6" y="479.6" text-anchor="end">20</text><text x="226.6" y="457.85" text-anchor="end">30</text><text x="226.6" y="436.1" text-anchor="end">40</text><text x="226.6" y="414.35" text-anchor="end">50</text><text x="226.6" y="392.6" text-anchor="end">60</text><text x="231" y="532.2" text-anchor="middle">0</text><text x="262.7" y="532.2" text-anchor="middle">50</text><text x="294.4" y="532.2" text-anchor="middle">100</text><text x="326.1" y="532.2" text-anchor="middle">150</text><text x="357.8" y="532.2" text-anchor="middle">200</text><text x="389.5" y="532.2" text-anchor="middle">250</text></g><text x="310.5" y="541.8" font-family="'Liberation Sans', Arial, sans-serif" font-weight="bold" font-size="10.2" fill="#111" stroke="#111" stroke-width="0.5" text-anchor="middle">Time in min</text><text transform="translate(209.7,461) rotate(-90)" font-family="'Liberation Sans', Arial, sans-serif" font-weight="bold" font-size="10.6" fill="#111" stroke="#111" stroke-width="0.45" text-anchor="middle" textLength="112.5" lengthAdjust="spacingAndGlyphs">Concentration in µg/mL</text><text x="198.3" y="392.4" font-family="'Liberation Serif', 'Times New Roman', serif" font-weight="bold" font-size="14" fill="#111" stroke="#111" stroke-width="0.25">(f)</text><polyline points="231,519.6 233.54,497.85 234.49,492.85 237.34,481.32 240.51,476.97 243.05,474.58 245.58,473.06 249.39,471.1 259.53,468.27 269.04,466.97 288.06,464.57 307.08,463.7 326.1,463.05 345.12,462.4 364.14,461.96 383.16,461.31" fill="none" stroke="#1a8c1e" stroke-width="1.6" stroke-linejoin="round"/><path d="M228.9 517.5h4.2v4.2h-4.2ZM231.44 495.75h4.2v4.2h-4.2ZM232.39 490.75h4.2v4.2h-4.2ZM235.24 479.22h4.2v4.2h-4.2ZM238.41 474.87h4.2v4.2h-4.2ZM240.95 472.48h4.2v4.2h-4.2ZM243.48 470.95h4.2v4.2h-4.2ZM247.29 469h4.2v4.2h-4.2ZM257.43 466.17h4.2v4.2h-4.2ZM266.94 464.87h4.2v4.2h-4.2ZM285.96 462.47h4.2v4.2h-4.2ZM304.98 461.6h4.2v4.2h-4.2ZM324 460.95h4.2v4.2h-4.2ZM343.02 460.3h4.2v4.2h-4.2ZM362.04 459.86h4.2v4.2h-4.2ZM381.06 459.21h4.2v4.2h-4.2Z" fill="#0a3a0e"/><polyline points="231,519.6 232.9,489.15 234.8,478.93 237.34,471.53 239.88,468.71 242.41,466.75 244.95,465.23 247.48,464.36 250.02,463.27 259.53,461.75 269.04,461.09 288.06,459.14 307.08,458.7 326.1,458.7 345.12,456.53 364.14,456.53 383.16,456.09" fill="none" stroke="#c81414" stroke-width="1.6" stroke-linejoin="round"/><path d="M228.45 519.6a2.55 2.55 0 1 0 5.1 0a2.55 2.55 0 1 0 -5.1 0ZM230.35 489.15a2.55 2.55 0 1 0 5.1 0a2.55 2.55 0 1 0 -5.1 0ZM232.25 478.93a2.55 2.55 0 1 0 5.1 0a2.55 2.55 0 1 0 -5.1 0ZM234.79 471.53a2.55 2.55 0 1 0 5.1 0a2.55 2.55 0 1 0 -5.1 0ZM237.33 468.71a2.55 2.55 0 1 0 5.1 0a2.55 2.55 0 1 0 -5.1 0ZM239.86 466.75a2.55 2.55 0 1 0 5.1 0a2.55 2.55 0 1 0 -5.1 0ZM242.4 465.23a2.55 2.55 0 1 0 5.1 0a2.55 2.55 0 1 0 -5.1 0ZM244.93 464.36a2.55 2.55 0 1 0 5.1 0a2.55 2.55 0 1 0 -5.1 0ZM247.47 463.27a2.55 2.55 0 1 0 5.1 0a2.55 2.55 0 1 0 -5.1 0ZM256.98 461.75a2.55 2.55 0 1 0 5.1 0a2.55 2.55 0 1 0 -5.1 0ZM266.49 461.09a2.55 2.55 0 1 0 5.1 0a2.55 2.55 0 1 0 -5.1 0ZM285.51 459.14a2.55 2.55 0 1 0 5.1 0a2.55 2.55 0 1 0 -5.1 0ZM304.53 458.7a2.55 2.55 0 1 0 5.1 0a2.55 2.55 0 1 0 -5.1 0ZM323.55 458.7a2.55 2.55 0 1 0 5.1 0a2.55 2.55 0 1 0 -5.1 0ZM342.57 456.53a2.55 2.55 0 1 0 5.1 0a2.55 2.55 0 1 0 -5.1 0ZM361.59 456.53a2.55 2.55 0 1 0 5.1 0a2.55 2.55 0 1 0 -5.1 0ZM380.61 456.09a2.55 2.55 0 1 0 5.1 0a2.55 2.55 0 1 0 -5.1 0Z" fill="#f01414"/><polyline points="231,519.6 234.17,452.18 237.34,418.68 240.51,405.63 243.68,398.24 246.85,400.63 250.02,403.89 259.53,401.93 269.04,403.24 288.06,404.33 307.08,404.33 326.1,408.68 345.12,408.68 364.14,408.68 383.16,409.11" fill="none" stroke="#16209a" stroke-width="1.9" stroke-linejoin="round"/><path d="M243.68 394.97L243.68 401.5M242.28 394.97L245.08 394.97M242.28 401.5L245.08 401.5M246.85 398.45L246.85 402.8M245.45 398.45L248.25 398.45M245.45 402.8L248.25 402.8M250.02 401.72L250.02 406.07M248.62 401.72L251.42 401.72M248.62 406.07L251.42 406.07M383.16 406.94L383.16 411.29M381.76 406.94L384.56 406.94M381.76 411.29L384.56 411.29" stroke="#16209a" stroke-width="0.7" fill="none" opacity="0.7"/><path d="M234.17 449.07L236.97 454.07L231.37 454.07ZM237.34 415.58L240.14 420.58L234.54 420.58ZM240.51 402.53L243.31 407.53L237.71 407.53ZM243.68 395.13L246.48 400.13L240.88 400.13ZM246.85 397.53L249.65 402.53L244.05 402.53ZM250.02 400.79L252.82 405.79L247.22 405.79ZM259.53 398.83L262.33 403.83L256.73 403.83ZM269.04 400.14L271.84 405.14L266.24 405.14ZM288.06 401.23L290.86 406.23L285.26 406.23ZM307.08 401.23L309.88 406.23L304.28 406.23ZM326.1 405.57L328.9 410.57L323.3 410.57ZM345.12 405.57L347.92 410.57L342.32 410.57ZM364.14 405.57L366.94 410.57L361.34 410.57ZM383.16 406.01L385.96 411.01L380.36 411.01Z" fill="#101a88"/><line x1="259.9" y1="417.3" x2="281.3" y2="417.3" stroke="#1a8c1e" stroke-width="1.4"/><rect x="268.5" y="415.2" width="4.2" height="4.2" rx="0.8" fill="#0a3a0e"/><text transform="translate(284.2,420.9) scale(0.975,1)" font-family="'Liberation Sans', Arial, sans-serif" font-weight="bold" font-size="10.3" fill="#111" stroke="#111" stroke-width="0.5">TAT</text><line x1="259.9" y1="430" x2="281.3" y2="430" stroke="#c81414" stroke-width="1.4"/><circle cx="270.6" cy="430" r="2.55" fill="#f01414"/><text transform="translate(284.2,433.6) scale(0.975,1)" font-family="'Liberation Sans', Arial, sans-serif" font-weight="bold" font-size="10.3" fill="#111" stroke="#111" stroke-width="0.5">TAT/MOF-5 PM</text><line x1="259.9" y1="442.3" x2="281.3" y2="442.3" stroke="#16209a" stroke-width="1.4"/><path d="M270.6 439.2L273.4 444.2L267.8 444.2Z" fill="#101a88"/><text transform="translate(284.2,445.9) scale(0.975,1)" font-family="'Liberation Sans', Arial, sans-serif" font-weight="bold" font-size="10.3" fill="#111" stroke="#111" stroke-width="0.5">TAT@MOF-5</text></svg></body></html>
